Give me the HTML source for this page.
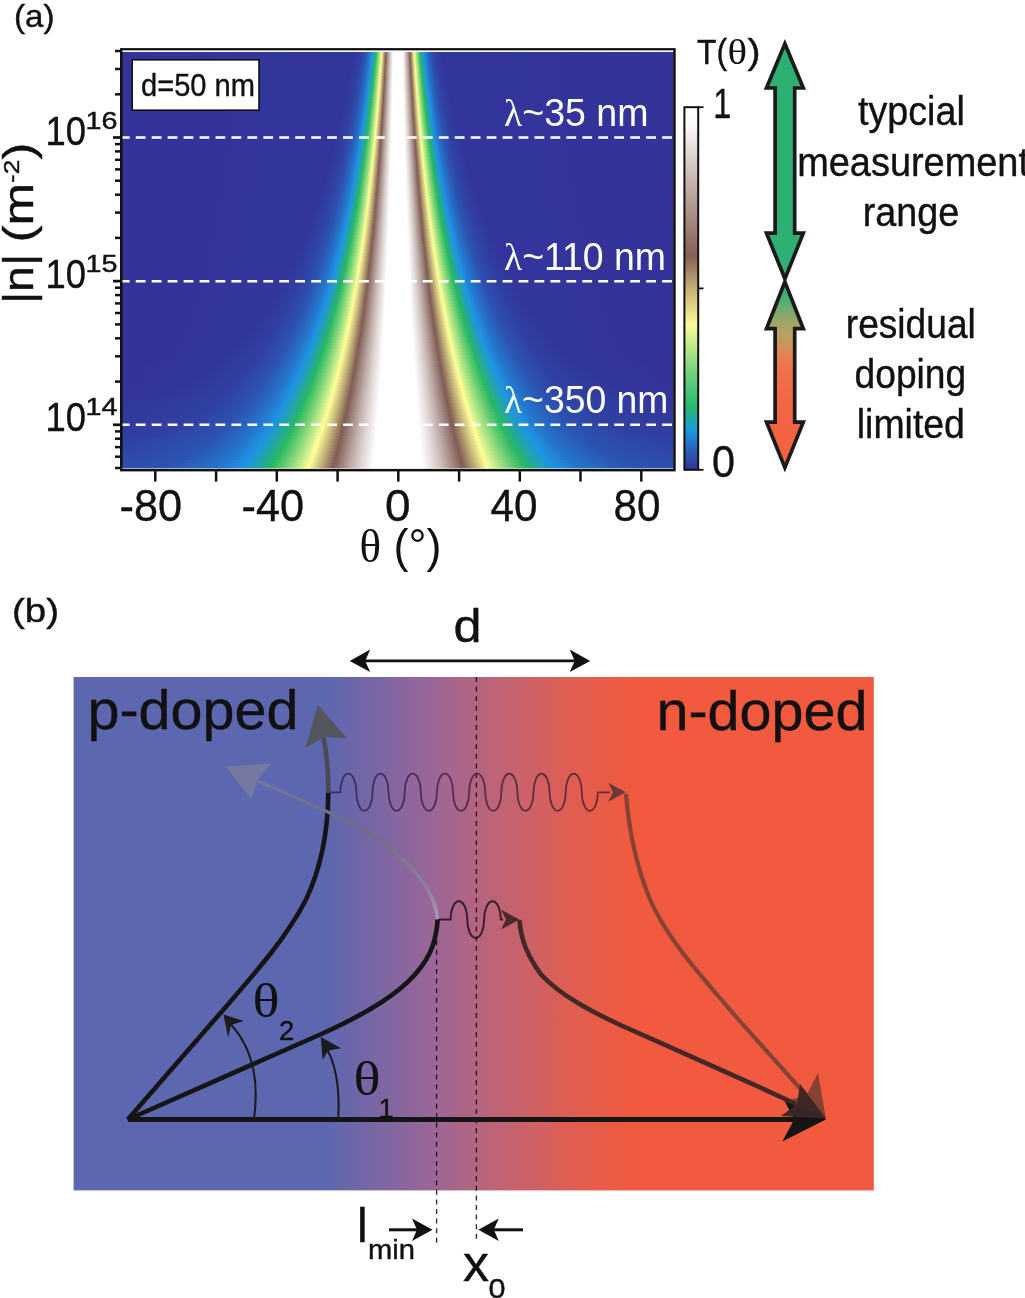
<!DOCTYPE html>
<html><head><meta charset="utf-8"><title>Figure</title>
<style>
html,body{margin:0;padding:0;background:#fff}
#pg{position:relative;width:1025px;height:1298px;overflow:hidden;background:#fff}
#hm{position:absolute;left:0;top:0;width:0;height:0}
#hm div{position:absolute;left:122.3px;width:551.2px}
</style></head><body><div id="pg">
<div id="hm"><div style="top:51.6px;height:3.3px;background:linear-gradient(90deg,#333399 0.00%,#32369c 42.15%,#3040a3 43.29%,#2c53b2 44.15%,#2574cb 44.88%,#1e94e4 45.37%,#23a6a3 45.74%,#28b862 46.05%,#5eca70 46.35%,#94dc7e 46.62%,#c9ed8b 46.87%,#ffff99 47.11%,#ded487 47.32%,#c0ae77 47.50%,#a18766 47.68%,#805c54 47.88%,#a0857f 48.16%,#c0aeaa 48.46%,#dfd6d4 48.80%,#ffffff 49.23%,#ffffff 50.07%,#ffffff 50.92%,#dfd6d4 51.34%,#c0aeaa 51.68%,#a0857f 51.98%,#805c54 52.27%,#a18766 52.47%,#c0ae77 52.65%,#ded487 52.83%,#ffff99 53.04%,#c9ed8b 53.27%,#94dc7e 53.52%,#5eca70 53.79%,#28b862 54.09%,#23a6a3 54.41%,#1e94e4 54.78%,#2574cb 55.26%,#2c53b2 56.00%,#3040a3 56.86%,#32369c 57.99%,#333399 100.00%)"></div><div style="top:54.6px;height:3.3px;background:linear-gradient(90deg,#333399 0.00%,#32369c 42.06%,#3040a3 43.20%,#2c53b2 44.07%,#2574cb 44.82%,#1e94e4 45.31%,#23a6a3 45.69%,#28b862 46.00%,#5eca70 46.31%,#94dc7e 46.58%,#c9ed8b 46.84%,#ffff99 47.07%,#ded487 47.28%,#c0ae77 47.47%,#a18766 47.65%,#805c54 47.85%,#a0857f 48.14%,#c0aeaa 48.44%,#dfd6d4 48.79%,#ffffff 49.22%,#ffffff 50.07%,#ffffff 50.93%,#dfd6d4 51.36%,#c0aeaa 51.70%,#a0857f 52.01%,#805c54 52.30%,#a18766 52.50%,#c0ae77 52.68%,#ded487 52.86%,#ffff99 53.07%,#c9ed8b 53.31%,#94dc7e 53.56%,#5eca70 53.84%,#28b862 54.14%,#23a6a3 54.46%,#1e94e4 54.84%,#2574cb 55.33%,#2c53b2 56.07%,#3040a3 56.94%,#32369c 58.09%,#333399 100.00%)"></div><div style="top:57.6px;height:3.3px;background:linear-gradient(90deg,#333399 0.00%,#32369c 41.96%,#3040a3 43.12%,#2c53b2 44.00%,#2574cb 44.76%,#1e94e4 45.25%,#23a6a3 45.63%,#28b862 45.96%,#5eca70 46.26%,#94dc7e 46.54%,#c9ed8b 46.80%,#ffff99 47.04%,#ded487 47.25%,#c0ae77 47.43%,#a18766 47.62%,#805c54 47.82%,#a0857f 48.12%,#c0aeaa 48.42%,#dfd6d4 48.77%,#ffffff 49.21%,#ffffff 50.07%,#ffffff 50.94%,#dfd6d4 51.37%,#c0aeaa 51.72%,#a0857f 52.03%,#805c54 52.32%,#a18766 52.53%,#c0ae77 52.71%,#ded487 52.90%,#ffff99 53.11%,#c9ed8b 53.35%,#94dc7e 53.60%,#5eca70 53.88%,#28b862 54.19%,#23a6a3 54.51%,#1e94e4 54.89%,#2574cb 55.39%,#2c53b2 56.15%,#3040a3 57.03%,#32369c 58.19%,#333399 100.00%)"></div><div style="top:60.6px;height:3.3px;background:linear-gradient(90deg,#333399 0.00%,#32369c 41.86%,#3040a3 43.03%,#2c53b2 43.93%,#2574cb 44.69%,#1e94e4 45.19%,#23a6a3 45.58%,#28b862 45.90%,#5eca70 46.22%,#94dc7e 46.50%,#c9ed8b 46.76%,#ffff99 47.00%,#ded487 47.21%,#c0ae77 47.40%,#a18766 47.59%,#805c54 47.80%,#a0857f 48.09%,#c0aeaa 48.40%,#dfd6d4 48.76%,#ffffff 49.19%,#ffffff 50.07%,#ffffff 50.95%,#dfd6d4 51.39%,#c0aeaa 51.74%,#a0857f 52.05%,#805c54 52.35%,#a18766 52.56%,#c0ae77 52.74%,#ded487 52.93%,#ffff99 53.14%,#c9ed8b 53.39%,#94dc7e 53.65%,#5eca70 53.93%,#28b862 54.24%,#23a6a3 54.57%,#1e94e4 54.95%,#2574cb 55.45%,#2c53b2 56.22%,#3040a3 57.11%,#32369c 58.29%,#333399 100.00%)"></div><div style="top:63.6px;height:3.3px;background:linear-gradient(90deg,#333399 0.00%,#32369c 41.75%,#3040a3 42.95%,#2c53b2 43.85%,#2574cb 44.63%,#1e94e4 45.13%,#23a6a3 45.53%,#28b862 45.85%,#5eca70 46.17%,#94dc7e 46.45%,#c9ed8b 46.72%,#ffff99 46.96%,#ded487 47.18%,#c0ae77 47.37%,#a18766 47.56%,#805c54 47.77%,#a0857f 48.07%,#c0aeaa 48.38%,#dfd6d4 48.74%,#ffffff 49.18%,#ffffff 50.07%,#ffffff 50.96%,#dfd6d4 51.41%,#c0aeaa 51.76%,#a0857f 52.08%,#805c54 52.38%,#a18766 52.59%,#c0ae77 52.77%,#ded487 52.97%,#ffff99 53.18%,#c9ed8b 53.43%,#94dc7e 53.69%,#5eca70 53.97%,#28b862 54.29%,#23a6a3 54.62%,#1e94e4 55.01%,#2574cb 55.52%,#2c53b2 56.30%,#3040a3 57.20%,#32369c 58.39%,#333399 100.00%)"></div><div style="top:66.6px;height:3.3px;background:linear-gradient(90deg,#333399 0.00%,#32369c 41.65%,#3040a3 42.86%,#2c53b2 43.77%,#2574cb 44.56%,#1e94e4 45.07%,#23a6a3 45.47%,#28b862 45.80%,#5eca70 46.12%,#94dc7e 46.41%,#c9ed8b 46.68%,#ffff99 46.93%,#ded487 47.14%,#c0ae77 47.34%,#a18766 47.53%,#805c54 47.74%,#a0857f 48.04%,#c0aeaa 48.36%,#dfd6d4 48.72%,#ffffff 49.17%,#ffffff 50.07%,#ffffff 50.97%,#dfd6d4 51.42%,#c0aeaa 51.78%,#a0857f 52.10%,#805c54 52.41%,#a18766 52.62%,#c0ae77 52.81%,#ded487 53.00%,#ffff99 53.22%,#c9ed8b 53.47%,#94dc7e 53.73%,#5eca70 54.02%,#28b862 54.34%,#23a6a3 54.68%,#1e94e4 55.07%,#2574cb 55.59%,#2c53b2 56.37%,#3040a3 57.29%,#32369c 58.49%,#333399 100.00%)"></div><div style="top:69.6px;height:3.3px;background:linear-gradient(90deg,#333399 0.00%,#32369c 41.55%,#3040a3 42.77%,#2c53b2 43.70%,#2574cb 44.49%,#1e94e4 45.01%,#23a6a3 45.41%,#28b862 45.75%,#5eca70 46.07%,#94dc7e 46.37%,#c9ed8b 46.63%,#ffff99 46.89%,#ded487 47.11%,#c0ae77 47.30%,#a18766 47.50%,#805c54 47.71%,#a0857f 48.02%,#c0aeaa 48.34%,#dfd6d4 48.71%,#ffffff 49.16%,#ffffff 50.07%,#ffffff 50.98%,#dfd6d4 51.44%,#c0aeaa 51.80%,#a0857f 52.13%,#805c54 52.43%,#a18766 52.65%,#c0ae77 52.84%,#ded487 53.04%,#ffff99 53.26%,#c9ed8b 53.51%,#94dc7e 53.78%,#5eca70 54.07%,#28b862 54.39%,#23a6a3 54.73%,#1e94e4 55.13%,#2574cb 55.65%,#2c53b2 56.45%,#3040a3 57.37%,#32369c 58.60%,#333399 100.00%)"></div><div style="top:72.6px;height:3.3px;background:linear-gradient(90deg,#333399 0.00%,#32369c 41.44%,#3040a3 42.68%,#2c53b2 43.62%,#2574cb 44.42%,#1e94e4 44.95%,#23a6a3 45.36%,#28b862 45.70%,#5eca70 46.03%,#94dc7e 46.32%,#c9ed8b 46.59%,#ffff99 46.85%,#ded487 47.07%,#c0ae77 47.27%,#a18766 47.47%,#805c54 47.68%,#a0857f 47.99%,#c0aeaa 48.32%,#dfd6d4 48.69%,#ffffff 49.15%,#ffffff 50.07%,#ffffff 50.99%,#dfd6d4 51.45%,#c0aeaa 51.82%,#a0857f 52.15%,#805c54 52.46%,#a18766 52.68%,#c0ae77 52.87%,#ded487 53.07%,#ffff99 53.30%,#c9ed8b 53.55%,#94dc7e 53.82%,#5eca70 54.12%,#28b862 54.45%,#23a6a3 54.79%,#1e94e4 55.20%,#2574cb 55.72%,#2c53b2 56.53%,#3040a3 57.46%,#32369c 58.70%,#333399 100.00%)"></div><div style="top:75.6px;height:3.3px;background:linear-gradient(90deg,#333399 0.00%,#32369c 41.33%,#3040a3 42.59%,#2c53b2 43.54%,#2574cb 44.35%,#1e94e4 44.89%,#23a6a3 45.30%,#28b862 45.65%,#5eca70 45.98%,#94dc7e 46.28%,#c9ed8b 46.55%,#ffff99 46.81%,#ded487 47.04%,#c0ae77 47.24%,#a18766 47.43%,#805c54 47.65%,#a0857f 47.97%,#c0aeaa 48.30%,#dfd6d4 48.67%,#ffffff 49.14%,#ffffff 50.07%,#ffffff 51.01%,#dfd6d4 51.47%,#c0aeaa 51.84%,#a0857f 52.18%,#805c54 52.49%,#a18766 52.71%,#c0ae77 52.91%,#ded487 53.11%,#ffff99 53.34%,#c9ed8b 53.59%,#94dc7e 53.87%,#5eca70 54.17%,#28b862 54.50%,#23a6a3 54.85%,#1e94e4 55.26%,#2574cb 55.79%,#2c53b2 56.61%,#3040a3 57.56%,#32369c 58.81%,#333399 100.00%)"></div><div style="top:78.6px;height:3.3px;background:linear-gradient(90deg,#333399 0.00%,#32369c 41.23%,#3040a3 42.50%,#2c53b2 43.46%,#2574cb 44.28%,#1e94e4 44.82%,#23a6a3 45.24%,#28b862 45.59%,#5eca70 45.93%,#94dc7e 46.23%,#c9ed8b 46.51%,#ffff99 46.77%,#ded487 47.00%,#c0ae77 47.20%,#a18766 47.40%,#805c54 47.62%,#a0857f 47.94%,#c0aeaa 48.28%,#dfd6d4 48.66%,#ffffff 49.13%,#ffffff 50.07%,#ffffff 51.02%,#dfd6d4 51.49%,#c0aeaa 51.87%,#a0857f 52.20%,#805c54 52.52%,#a18766 52.74%,#c0ae77 52.94%,#ded487 53.14%,#ffff99 53.37%,#c9ed8b 53.64%,#94dc7e 53.92%,#5eca70 54.22%,#28b862 54.55%,#23a6a3 54.90%,#1e94e4 55.32%,#2574cb 55.86%,#2c53b2 56.69%,#3040a3 57.65%,#32369c 58.92%,#333399 100.00%)"></div><div style="top:81.6px;height:3.3px;background:linear-gradient(90deg,#333399 0.00%,#32369c 41.12%,#3040a3 42.40%,#2c53b2 43.38%,#2574cb 44.21%,#1e94e4 44.76%,#23a6a3 45.18%,#28b862 45.54%,#5eca70 45.88%,#94dc7e 46.18%,#c9ed8b 46.46%,#ffff99 46.73%,#ded487 46.96%,#c0ae77 47.17%,#a18766 47.37%,#805c54 47.60%,#a0857f 47.92%,#c0aeaa 48.26%,#dfd6d4 48.64%,#ffffff 49.12%,#ffffff 50.07%,#ffffff 51.03%,#dfd6d4 51.51%,#c0aeaa 51.89%,#a0857f 52.23%,#805c54 52.55%,#a18766 52.78%,#c0ae77 52.98%,#ded487 53.18%,#ffff99 53.41%,#c9ed8b 53.68%,#94dc7e 53.96%,#5eca70 54.27%,#28b862 54.61%,#23a6a3 54.96%,#1e94e4 55.39%,#2574cb 55.93%,#2c53b2 56.77%,#3040a3 57.74%,#32369c 59.03%,#333399 100.00%)"></div><div style="top:84.6px;height:3.3px;background:linear-gradient(90deg,#333399 0.00%,#32369c 41.00%,#3040a3 42.31%,#2c53b2 43.30%,#2574cb 44.14%,#1e94e4 44.69%,#23a6a3 45.12%,#28b862 45.48%,#5eca70 45.83%,#94dc7e 46.13%,#c9ed8b 46.42%,#ffff99 46.69%,#ded487 46.93%,#c0ae77 47.13%,#a18766 47.34%,#805c54 47.57%,#a0857f 47.89%,#c0aeaa 48.24%,#dfd6d4 48.62%,#ffffff 49.11%,#ffffff 50.07%,#ffffff 51.04%,#dfd6d4 51.52%,#c0aeaa 51.91%,#a0857f 52.25%,#805c54 52.58%,#a18766 52.81%,#c0ae77 53.01%,#ded487 53.22%,#ffff99 53.46%,#c9ed8b 53.72%,#94dc7e 54.01%,#5eca70 54.32%,#28b862 54.66%,#23a6a3 55.02%,#1e94e4 55.45%,#2574cb 56.00%,#2c53b2 56.85%,#3040a3 57.84%,#32369c 59.14%,#333399 100.00%)"></div><div style="top:87.6px;height:3.3px;background:linear-gradient(90deg,#333399 0.00%,#32369c 40.89%,#3040a3 42.21%,#2c53b2 43.21%,#2574cb 44.07%,#1e94e4 44.63%,#23a6a3 45.06%,#28b862 45.43%,#5eca70 45.77%,#94dc7e 46.09%,#c9ed8b 46.38%,#ffff99 46.65%,#ded487 46.89%,#c0ae77 47.10%,#a18766 47.30%,#805c54 47.53%,#a0857f 47.86%,#c0aeaa 48.21%,#dfd6d4 48.60%,#ffffff 49.09%,#ffffff 50.07%,#ffffff 51.05%,#dfd6d4 51.54%,#c0aeaa 51.93%,#a0857f 52.28%,#805c54 52.61%,#a18766 52.84%,#c0ae77 53.05%,#ded487 53.26%,#ffff99 53.50%,#c9ed8b 53.77%,#94dc7e 54.06%,#5eca70 54.37%,#28b862 54.72%,#23a6a3 55.08%,#1e94e4 55.52%,#2574cb 56.08%,#2c53b2 56.93%,#3040a3 57.93%,#32369c 59.25%,#333399 100.00%)"></div><div style="top:90.6px;height:3.3px;background:linear-gradient(90deg,#333399 0.00%,#32369c 40.78%,#3040a3 42.12%,#2c53b2 43.13%,#2574cb 44.00%,#1e94e4 44.56%,#23a6a3 45.00%,#28b862 45.37%,#5eca70 45.72%,#94dc7e 46.04%,#c9ed8b 46.33%,#ffff99 46.61%,#ded487 46.85%,#c0ae77 47.06%,#a18766 47.27%,#805c54 47.50%,#a0857f 47.84%,#c0aeaa 48.19%,#dfd6d4 48.59%,#ffffff 49.08%,#ffffff 50.07%,#ffffff 51.06%,#dfd6d4 51.56%,#c0aeaa 51.95%,#a0857f 52.31%,#805c54 52.64%,#a18766 52.87%,#c0ae77 53.08%,#ded487 53.30%,#ffff99 53.54%,#c9ed8b 53.81%,#94dc7e 54.11%,#5eca70 54.42%,#28b862 54.78%,#23a6a3 55.14%,#1e94e4 55.58%,#2574cb 56.15%,#2c53b2 57.02%,#3040a3 58.03%,#32369c 59.37%,#333399 100.00%)"></div><div style="top:93.6px;height:3.3px;background:linear-gradient(90deg,#333399 0.00%,#32369c 40.66%,#3040a3 42.02%,#2c53b2 43.04%,#2574cb 43.92%,#1e94e4 44.50%,#23a6a3 44.94%,#28b862 45.31%,#5eca70 45.67%,#94dc7e 45.99%,#c9ed8b 46.29%,#ffff99 46.57%,#ded487 46.81%,#c0ae77 47.02%,#a18766 47.24%,#805c54 47.47%,#a0857f 47.81%,#c0aeaa 48.17%,#dfd6d4 48.57%,#ffffff 49.07%,#ffffff 50.07%,#ffffff 51.07%,#dfd6d4 51.58%,#c0aeaa 51.98%,#a0857f 52.33%,#805c54 52.67%,#a18766 52.91%,#c0ae77 53.12%,#ded487 53.34%,#ffff99 53.58%,#c9ed8b 53.86%,#94dc7e 54.16%,#5eca70 54.48%,#28b862 54.83%,#23a6a3 55.21%,#1e94e4 55.65%,#2574cb 56.22%,#2c53b2 57.10%,#3040a3 58.13%,#32369c 59.48%,#333399 100.00%)"></div><div style="top:96.6px;height:3.3px;background:linear-gradient(90deg,#333399 0.00%,#32369c 40.54%,#3040a3 41.92%,#2c53b2 42.96%,#2574cb 43.85%,#1e94e4 44.43%,#23a6a3 44.88%,#28b862 45.25%,#5eca70 45.61%,#94dc7e 45.94%,#c9ed8b 46.24%,#ffff99 46.52%,#ded487 46.77%,#c0ae77 46.99%,#a18766 47.20%,#805c54 47.44%,#a0857f 47.78%,#c0aeaa 48.15%,#dfd6d4 48.55%,#ffffff 49.06%,#ffffff 50.07%,#ffffff 51.09%,#dfd6d4 51.59%,#c0aeaa 52.00%,#a0857f 52.36%,#805c54 52.70%,#a18766 52.94%,#c0ae77 53.16%,#ded487 53.38%,#ffff99 53.62%,#c9ed8b 53.91%,#94dc7e 54.21%,#5eca70 54.53%,#28b862 54.89%,#23a6a3 55.27%,#1e94e4 55.72%,#2574cb 56.30%,#2c53b2 57.19%,#3040a3 58.23%,#32369c 59.60%,#333399 100.00%)"></div><div style="top:99.6px;height:3.3px;background:linear-gradient(90deg,#333399 0.00%,#32369c 40.42%,#3040a3 41.82%,#2c53b2 42.87%,#2574cb 43.77%,#1e94e4 44.36%,#23a6a3 44.81%,#28b862 45.19%,#5eca70 45.56%,#94dc7e 45.89%,#c9ed8b 46.19%,#ffff99 46.48%,#ded487 46.73%,#c0ae77 46.95%,#a18766 47.17%,#805c54 47.41%,#a0857f 47.76%,#c0aeaa 48.12%,#dfd6d4 48.53%,#ffffff 49.05%,#ffffff 50.07%,#ffffff 51.10%,#dfd6d4 51.61%,#c0aeaa 52.02%,#a0857f 52.39%,#805c54 52.74%,#a18766 52.98%,#c0ae77 53.20%,#ded487 53.42%,#ffff99 53.67%,#c9ed8b 53.95%,#94dc7e 54.26%,#5eca70 54.58%,#28b862 54.95%,#23a6a3 55.33%,#1e94e4 55.79%,#2574cb 56.38%,#2c53b2 57.28%,#3040a3 58.33%,#32369c 59.72%,#333399 100.00%)"></div><div style="top:102.6px;height:3.3px;background:linear-gradient(90deg,#333399 0.00%,#32369c 40.30%,#3040a3 41.72%,#2c53b2 42.78%,#2574cb 43.69%,#1e94e4 44.29%,#23a6a3 44.75%,#28b862 45.14%,#5eca70 45.51%,#94dc7e 45.84%,#c9ed8b 46.15%,#ffff99 46.44%,#ded487 46.69%,#c0ae77 46.91%,#a18766 47.13%,#805c54 47.38%,#a0857f 47.73%,#c0aeaa 48.10%,#dfd6d4 48.51%,#ffffff 49.03%,#ffffff 50.07%,#ffffff 51.11%,#dfd6d4 51.63%,#c0aeaa 52.05%,#a0857f 52.42%,#805c54 52.77%,#a18766 53.01%,#c0ae77 53.23%,#ded487 53.46%,#ffff99 53.71%,#c9ed8b 54.00%,#94dc7e 54.31%,#5eca70 54.64%,#28b862 55.01%,#23a6a3 55.40%,#1e94e4 55.86%,#2574cb 56.45%,#2c53b2 57.37%,#3040a3 58.43%,#32369c 59.84%,#333399 100.00%)"></div><div style="top:105.6px;height:3.3px;background:linear-gradient(90deg,#333399 0.00%,#32369c 40.18%,#3040a3 41.61%,#2c53b2 42.69%,#2574cb 43.61%,#1e94e4 44.22%,#23a6a3 44.68%,#28b862 45.08%,#5eca70 45.45%,#94dc7e 45.79%,#c9ed8b 46.10%,#ffff99 46.39%,#ded487 46.65%,#c0ae77 46.87%,#a18766 47.10%,#805c54 47.34%,#a0857f 47.70%,#c0aeaa 48.07%,#dfd6d4 48.49%,#ffffff 49.02%,#ffffff 50.07%,#ffffff 51.12%,#dfd6d4 51.65%,#c0aeaa 52.07%,#a0857f 52.45%,#805c54 52.80%,#a18766 53.05%,#c0ae77 53.27%,#ded487 53.50%,#ffff99 53.75%,#c9ed8b 54.05%,#94dc7e 54.36%,#5eca70 54.70%,#28b862 55.07%,#23a6a3 55.46%,#1e94e4 55.93%,#2574cb 56.53%,#2c53b2 57.46%,#3040a3 58.53%,#32369c 59.96%,#333399 100.00%)"></div><div style="top:108.6px;height:3.3px;background:linear-gradient(90deg,#333399 0.00%,#32369c 40.06%,#3040a3 41.51%,#2c53b2 42.60%,#2574cb 43.53%,#1e94e4 44.15%,#23a6a3 44.62%,#28b862 45.01%,#5eca70 45.39%,#94dc7e 45.73%,#c9ed8b 46.05%,#ffff99 46.35%,#ded487 46.61%,#c0ae77 46.83%,#a18766 47.06%,#805c54 47.31%,#a0857f 47.67%,#c0aeaa 48.05%,#dfd6d4 48.48%,#ffffff 49.01%,#ffffff 50.07%,#ffffff 51.14%,#dfd6d4 51.67%,#c0aeaa 52.09%,#a0857f 52.47%,#805c54 52.83%,#a18766 53.08%,#c0ae77 53.31%,#ded487 53.54%,#ffff99 53.80%,#c9ed8b 54.10%,#94dc7e 54.41%,#5eca70 54.75%,#28b862 55.13%,#23a6a3 55.53%,#1e94e4 56.00%,#2574cb 56.61%,#2c53b2 57.55%,#3040a3 58.64%,#32369c 60.09%,#333399 100.00%)"></div><div style="top:111.6px;height:3.3px;background:linear-gradient(90deg,#333399 0.00%,#32369c 39.93%,#3040a3 41.40%,#2c53b2 42.51%,#2574cb 43.45%,#1e94e4 44.07%,#23a6a3 44.55%,#28b862 44.95%,#5eca70 45.34%,#94dc7e 45.68%,#c9ed8b 46.00%,#ffff99 46.30%,#ded487 46.56%,#c0ae77 46.80%,#a18766 47.02%,#805c54 47.28%,#a0857f 47.64%,#c0aeaa 48.03%,#dfd6d4 48.46%,#ffffff 49.00%,#ffffff 50.07%,#ffffff 51.15%,#dfd6d4 51.69%,#c0aeaa 52.12%,#a0857f 52.50%,#805c54 52.87%,#a18766 53.12%,#c0ae77 53.35%,#ded487 53.58%,#ffff99 53.84%,#c9ed8b 54.14%,#94dc7e 54.46%,#5eca70 54.81%,#28b862 55.19%,#23a6a3 55.59%,#1e94e4 56.07%,#2574cb 56.69%,#2c53b2 57.64%,#3040a3 58.74%,#32369c 60.21%,#333399 100.00%)"></div><div style="top:114.6px;height:3.3px;background:linear-gradient(90deg,#333399 0.00%,#32369c 39.81%,#3040a3 41.29%,#2c53b2 42.41%,#2574cb 43.37%,#1e94e4 44.00%,#23a6a3 44.48%,#28b862 44.89%,#5eca70 45.28%,#94dc7e 45.63%,#c9ed8b 45.95%,#ffff99 46.26%,#ded487 46.52%,#c0ae77 46.76%,#a18766 46.99%,#805c54 47.24%,#a0857f 47.61%,#c0aeaa 48.00%,#dfd6d4 48.44%,#ffffff 48.98%,#ffffff 50.07%,#ffffff 51.16%,#dfd6d4 51.71%,#c0aeaa 52.14%,#a0857f 52.53%,#805c54 52.90%,#a18766 53.16%,#c0ae77 53.39%,#ded487 53.62%,#ffff99 53.89%,#c9ed8b 54.19%,#94dc7e 54.52%,#5eca70 54.87%,#28b862 55.26%,#23a6a3 55.66%,#1e94e4 56.15%,#2574cb 56.77%,#2c53b2 57.73%,#3040a3 58.85%,#32369c 60.34%,#333399 100.00%)"></div><div style="top:117.6px;height:3.3px;background:linear-gradient(90deg,#333399 0.00%,#32369c 39.68%,#3040a3 41.18%,#2c53b2 42.32%,#2574cb 43.29%,#1e94e4 43.93%,#23a6a3 44.42%,#28b862 44.83%,#5eca70 45.22%,#94dc7e 45.57%,#c9ed8b 45.90%,#ffff99 46.21%,#ded487 46.48%,#c0ae77 46.72%,#a18766 46.95%,#805c54 47.21%,#a0857f 47.58%,#c0aeaa 47.98%,#dfd6d4 48.42%,#ffffff 48.97%,#ffffff 50.07%,#ffffff 51.18%,#dfd6d4 51.73%,#c0aeaa 52.17%,#a0857f 52.56%,#805c54 52.94%,#a18766 53.20%,#c0ae77 53.43%,#ded487 53.67%,#ffff99 53.94%,#c9ed8b 54.24%,#94dc7e 54.57%,#5eca70 54.92%,#28b862 55.32%,#23a6a3 55.73%,#1e94e4 56.22%,#2574cb 56.85%,#2c53b2 57.83%,#3040a3 58.96%,#32369c 60.47%,#333399 100.00%)"></div><div style="top:120.6px;height:3.3px;background:linear-gradient(90deg,#333399 0.00%,#32369c 39.55%,#3040a3 41.07%,#2c53b2 42.22%,#2574cb 43.21%,#1e94e4 43.85%,#23a6a3 44.35%,#28b862 44.76%,#5eca70 45.16%,#94dc7e 45.52%,#c9ed8b 45.85%,#ffff99 46.16%,#ded487 46.43%,#c0ae77 46.67%,#a18766 46.91%,#805c54 47.18%,#a0857f 47.55%,#c0aeaa 47.95%,#dfd6d4 48.40%,#ffffff 48.96%,#ffffff 50.07%,#ffffff 51.19%,#dfd6d4 51.75%,#c0aeaa 52.19%,#a0857f 52.59%,#805c54 52.97%,#a18766 53.23%,#c0ae77 53.47%,#ded487 53.71%,#ffff99 53.98%,#c9ed8b 54.29%,#94dc7e 54.63%,#5eca70 54.98%,#28b862 55.38%,#23a6a3 55.80%,#1e94e4 56.30%,#2574cb 56.94%,#2c53b2 57.92%,#3040a3 59.07%,#32369c 60.60%,#333399 100.00%)"></div><div style="top:123.6px;height:3.3px;background:linear-gradient(90deg,#333399 0.00%,#32369c 39.41%,#3040a3 40.96%,#2c53b2 42.13%,#2574cb 43.12%,#1e94e4 43.77%,#23a6a3 44.28%,#28b862 44.70%,#5eca70 45.10%,#94dc7e 45.46%,#c9ed8b 45.80%,#ffff99 46.11%,#ded487 46.39%,#c0ae77 46.63%,#a18766 46.87%,#805c54 47.14%,#a0857f 47.52%,#c0aeaa 47.92%,#dfd6d4 48.38%,#ffffff 48.94%,#ffffff 50.07%,#ffffff 51.20%,#dfd6d4 51.77%,#c0aeaa 52.22%,#a0857f 52.62%,#805c54 53.01%,#a18766 53.27%,#c0ae77 53.51%,#ded487 53.75%,#ffff99 54.03%,#c9ed8b 54.35%,#94dc7e 54.68%,#5eca70 55.04%,#28b862 55.45%,#23a6a3 55.87%,#1e94e4 56.37%,#2574cb 57.02%,#2c53b2 58.02%,#3040a3 59.18%,#32369c 60.73%,#333399 100.00%)"></div><div style="top:126.6px;height:3.3px;background:linear-gradient(90deg,#333399 0.00%,#32369c 39.28%,#3040a3 40.85%,#2c53b2 42.03%,#2574cb 43.04%,#1e94e4 43.70%,#23a6a3 44.21%,#28b862 44.63%,#5eca70 45.04%,#94dc7e 45.41%,#c9ed8b 45.75%,#ffff99 46.07%,#ded487 46.35%,#c0ae77 46.59%,#a18766 46.83%,#805c54 47.10%,#a0857f 47.49%,#c0aeaa 47.90%,#dfd6d4 48.36%,#ffffff 48.93%,#ffffff 50.07%,#ffffff 51.22%,#dfd6d4 51.79%,#c0aeaa 52.25%,#a0857f 52.65%,#805c54 53.04%,#a18766 53.31%,#c0ae77 53.55%,#ded487 53.80%,#ffff99 54.08%,#c9ed8b 54.40%,#94dc7e 54.74%,#5eca70 55.10%,#28b862 55.51%,#23a6a3 55.94%,#1e94e4 56.45%,#2574cb 57.11%,#2c53b2 58.12%,#3040a3 59.30%,#32369c 60.87%,#333399 100.00%)"></div><div style="top:129.6px;height:3.3px;background:linear-gradient(90deg,#333399 0.00%,#32369c 39.14%,#3040a3 40.73%,#2c53b2 41.93%,#2574cb 42.95%,#1e94e4 43.62%,#23a6a3 44.13%,#28b862 44.57%,#5eca70 44.98%,#94dc7e 45.35%,#c9ed8b 45.69%,#ffff99 46.02%,#ded487 46.30%,#c0ae77 46.55%,#a18766 46.79%,#805c54 47.07%,#a0857f 47.46%,#c0aeaa 47.87%,#dfd6d4 48.34%,#ffffff 48.91%,#ffffff 50.07%,#ffffff 51.23%,#dfd6d4 51.81%,#c0aeaa 52.27%,#a0857f 52.69%,#805c54 53.08%,#a18766 53.35%,#c0ae77 53.60%,#ded487 53.84%,#ffff99 54.13%,#c9ed8b 54.45%,#94dc7e 54.79%,#5eca70 55.17%,#28b862 55.58%,#23a6a3 56.01%,#1e94e4 56.53%,#2574cb 57.19%,#2c53b2 58.22%,#3040a3 59.41%,#32369c 61.00%,#333399 100.00%)"></div><div style="top:132.6px;height:3.3px;background:linear-gradient(90deg,#333399 0.00%,#32369c 39.01%,#3040a3 40.62%,#2c53b2 41.83%,#2574cb 42.86%,#1e94e4 43.54%,#23a6a3 44.06%,#28b862 44.50%,#5eca70 44.92%,#94dc7e 45.29%,#c9ed8b 45.64%,#ffff99 45.97%,#ded487 46.25%,#c0ae77 46.51%,#a18766 46.76%,#805c54 47.03%,#a0857f 47.43%,#c0aeaa 47.85%,#dfd6d4 48.31%,#ffffff 48.90%,#ffffff 50.07%,#ffffff 51.24%,#dfd6d4 51.83%,#c0aeaa 52.30%,#a0857f 52.72%,#805c54 53.11%,#a18766 53.39%,#c0ae77 53.64%,#ded487 53.89%,#ffff99 54.18%,#c9ed8b 54.50%,#94dc7e 54.85%,#5eca70 55.23%,#28b862 55.65%,#23a6a3 56.08%,#1e94e4 56.61%,#2574cb 57.28%,#2c53b2 58.32%,#3040a3 59.53%,#32369c 61.14%,#333399 100.00%)"></div><div style="top:135.6px;height:3.3px;background:linear-gradient(90deg,#333399 0.00%,#32369c 38.87%,#3040a3 40.50%,#2c53b2 41.73%,#2574cb 42.77%,#1e94e4 43.46%,#23a6a3 43.99%,#28b862 44.43%,#5eca70 44.85%,#94dc7e 45.24%,#c9ed8b 45.59%,#ffff99 45.92%,#ded487 46.21%,#c0ae77 46.46%,#a18766 46.71%,#805c54 47.00%,#a0857f 47.40%,#c0aeaa 47.82%,#dfd6d4 48.29%,#ffffff 48.89%,#ffffff 50.07%,#ffffff 51.26%,#dfd6d4 51.85%,#c0aeaa 52.33%,#a0857f 52.75%,#805c54 53.15%,#a18766 53.43%,#c0ae77 53.68%,#ded487 53.94%,#ffff99 54.23%,#c9ed8b 54.56%,#94dc7e 54.91%,#5eca70 55.29%,#28b862 55.72%,#23a6a3 56.16%,#1e94e4 56.69%,#2574cb 57.37%,#2c53b2 58.42%,#3040a3 59.65%,#32369c 61.28%,#333399 100.00%)"></div><div style="top:138.6px;height:3.3px;background:linear-gradient(90deg,#333399 0.00%,#32369c 38.72%,#3040a3 40.38%,#2c53b2 41.62%,#2574cb 42.68%,#1e94e4 43.38%,#23a6a3 43.91%,#28b862 44.36%,#5eca70 44.79%,#94dc7e 45.18%,#c9ed8b 45.53%,#ffff99 45.87%,#ded487 46.16%,#c0ae77 46.42%,#a18766 46.67%,#805c54 46.96%,#a0857f 47.36%,#c0aeaa 47.79%,#dfd6d4 48.27%,#ffffff 48.87%,#ffffff 50.07%,#ffffff 51.27%,#dfd6d4 51.87%,#c0aeaa 52.35%,#a0857f 52.78%,#805c54 53.19%,#a18766 53.47%,#c0ae77 53.73%,#ded487 53.98%,#ffff99 54.28%,#c9ed8b 54.61%,#94dc7e 54.97%,#5eca70 55.35%,#28b862 55.78%,#23a6a3 56.23%,#1e94e4 56.77%,#2574cb 57.46%,#2c53b2 58.52%,#3040a3 59.77%,#32369c 61.42%,#333399 100.00%)"></div><div style="top:141.6px;height:3.3px;background:linear-gradient(90deg,#333399 0.00%,#32369c 38.58%,#3040a3 40.26%,#2c53b2 41.52%,#2574cb 42.59%,#1e94e4 43.30%,#23a6a3 43.84%,#28b862 44.29%,#5eca70 44.73%,#94dc7e 45.12%,#c9ed8b 45.48%,#ffff99 45.82%,#ded487 46.11%,#c0ae77 46.37%,#a18766 46.63%,#805c54 46.92%,#a0857f 47.33%,#c0aeaa 47.76%,#dfd6d4 48.25%,#ffffff 48.86%,#ffffff 50.07%,#ffffff 51.29%,#dfd6d4 51.90%,#c0aeaa 52.38%,#a0857f 52.82%,#805c54 53.23%,#a18766 53.51%,#c0ae77 53.77%,#ded487 54.03%,#ffff99 54.33%,#c9ed8b 54.67%,#94dc7e 55.03%,#5eca70 55.42%,#28b862 55.85%,#23a6a3 56.31%,#1e94e4 56.85%,#2574cb 57.55%,#2c53b2 58.63%,#3040a3 59.89%,#32369c 61.56%,#333399 100.00%)"></div><div style="top:144.6px;height:3.3px;background:linear-gradient(90deg,#333399 0.00%,#32369c 38.44%,#3040a3 40.13%,#2c53b2 41.41%,#2574cb 42.50%,#1e94e4 43.21%,#23a6a3 43.76%,#28b862 44.22%,#5eca70 44.66%,#94dc7e 45.06%,#c9ed8b 45.42%,#ffff99 45.77%,#ded487 46.07%,#c0ae77 46.33%,#a18766 46.59%,#805c54 46.88%,#a0857f 47.30%,#c0aeaa 47.74%,#dfd6d4 48.23%,#ffffff 48.84%,#ffffff 50.07%,#ffffff 51.30%,#dfd6d4 51.92%,#c0aeaa 52.41%,#a0857f 52.85%,#805c54 53.26%,#a18766 53.55%,#c0ae77 53.82%,#ded487 54.08%,#ffff99 54.38%,#c9ed8b 54.72%,#94dc7e 55.09%,#5eca70 55.48%,#28b862 55.92%,#23a6a3 56.38%,#1e94e4 56.93%,#2574cb 57.64%,#2c53b2 58.73%,#3040a3 60.01%,#32369c 61.71%,#333399 100.00%)"></div><div style="top:147.6px;height:3.3px;background:linear-gradient(90deg,#333399 0.00%,#32369c 38.29%,#3040a3 40.01%,#2c53b2 41.30%,#2574cb 42.41%,#1e94e4 43.13%,#23a6a3 43.68%,#28b862 44.15%,#5eca70 44.59%,#94dc7e 45.00%,#c9ed8b 45.36%,#ffff99 45.71%,#ded487 46.02%,#c0ae77 46.28%,#a18766 46.55%,#805c54 46.84%,#a0857f 47.26%,#c0aeaa 47.71%,#dfd6d4 48.20%,#ffffff 48.83%,#ffffff 50.07%,#ffffff 51.32%,#dfd6d4 51.94%,#c0aeaa 52.44%,#a0857f 52.88%,#805c54 53.30%,#a18766 53.60%,#c0ae77 53.86%,#ded487 54.13%,#ffff99 54.43%,#c9ed8b 54.78%,#94dc7e 55.15%,#5eca70 55.55%,#28b862 56.00%,#23a6a3 56.46%,#1e94e4 57.02%,#2574cb 57.74%,#2c53b2 58.84%,#3040a3 60.13%,#32369c 61.86%,#333399 100.00%)"></div><div style="top:150.6px;height:3.3px;background:linear-gradient(90deg,#333399 0.00%,#32369c 38.14%,#3040a3 39.88%,#2c53b2 41.19%,#2574cb 42.31%,#1e94e4 43.04%,#23a6a3 43.61%,#28b862 44.08%,#5eca70 44.53%,#94dc7e 44.93%,#c9ed8b 45.31%,#ffff99 45.66%,#ded487 45.97%,#c0ae77 46.24%,#a18766 46.51%,#805c54 46.80%,#a0857f 47.23%,#c0aeaa 47.68%,#dfd6d4 48.18%,#ffffff 48.81%,#ffffff 50.07%,#ffffff 51.33%,#dfd6d4 51.96%,#c0aeaa 52.47%,#a0857f 52.92%,#805c54 53.34%,#a18766 53.64%,#c0ae77 53.91%,#ded487 54.18%,#ffff99 54.49%,#c9ed8b 54.84%,#94dc7e 55.21%,#5eca70 55.62%,#28b862 56.07%,#23a6a3 56.54%,#1e94e4 57.10%,#2574cb 57.83%,#2c53b2 58.95%,#3040a3 60.26%,#32369c 62.01%,#333399 100.00%)"></div><div style="top:153.6px;height:3.3px;background:linear-gradient(90deg,#333399 0.00%,#32369c 37.99%,#3040a3 39.76%,#2c53b2 41.08%,#2574cb 42.22%,#1e94e4 42.96%,#23a6a3 43.53%,#28b862 44.00%,#5eca70 44.46%,#94dc7e 44.87%,#c9ed8b 45.25%,#ffff99 45.61%,#ded487 45.92%,#c0ae77 46.19%,#a18766 46.46%,#805c54 46.76%,#a0857f 47.19%,#c0aeaa 47.65%,#dfd6d4 48.16%,#ffffff 48.80%,#ffffff 50.07%,#ffffff 51.35%,#dfd6d4 51.99%,#c0aeaa 52.50%,#a0857f 52.95%,#805c54 53.38%,#a18766 53.68%,#c0ae77 53.95%,#ded487 54.23%,#ffff99 54.54%,#c9ed8b 54.90%,#94dc7e 55.27%,#5eca70 55.68%,#28b862 56.14%,#23a6a3 56.62%,#1e94e4 57.19%,#2574cb 57.93%,#2c53b2 59.06%,#3040a3 60.39%,#32369c 62.16%,#333399 100.00%)"></div><div style="top:156.6px;height:3.3px;background:linear-gradient(90deg,#333399 0.00%,#32369c 37.83%,#3040a3 39.63%,#2c53b2 40.97%,#2574cb 42.12%,#1e94e4 42.87%,#23a6a3 43.45%,#28b862 43.93%,#5eca70 44.39%,#94dc7e 44.81%,#c9ed8b 45.19%,#ffff99 45.55%,#ded487 45.87%,#c0ae77 46.14%,#a18766 46.42%,#805c54 46.72%,#a0857f 47.16%,#c0aeaa 47.62%,#dfd6d4 48.14%,#ffffff 48.78%,#ffffff 50.07%,#ffffff 51.36%,#dfd6d4 52.01%,#c0aeaa 52.52%,#a0857f 52.99%,#805c54 53.42%,#a18766 53.73%,#c0ae77 54.00%,#ded487 54.28%,#ffff99 54.59%,#c9ed8b 54.95%,#94dc7e 55.34%,#5eca70 55.75%,#28b862 56.22%,#23a6a3 56.70%,#1e94e4 57.28%,#2574cb 58.02%,#2c53b2 59.17%,#3040a3 60.52%,#32369c 62.31%,#333399 100.00%)"></div><div style="top:159.6px;height:3.3px;background:linear-gradient(90deg,#333399 0.00%,#32369c 37.68%,#3040a3 39.50%,#2c53b2 40.86%,#2574cb 42.02%,#1e94e4 42.78%,#23a6a3 43.36%,#28b862 43.85%,#5eca70 44.32%,#94dc7e 44.74%,#c9ed8b 45.13%,#ffff99 45.50%,#ded487 45.82%,#c0ae77 46.10%,#a18766 46.37%,#805c54 46.68%,#a0857f 47.12%,#c0aeaa 47.59%,#dfd6d4 48.11%,#ffffff 48.77%,#ffffff 50.07%,#ffffff 51.38%,#dfd6d4 52.03%,#c0aeaa 52.55%,#a0857f 53.02%,#805c54 53.46%,#a18766 53.77%,#c0ae77 54.05%,#ded487 54.33%,#ffff99 54.65%,#c9ed8b 55.01%,#94dc7e 55.40%,#5eca70 55.82%,#28b862 56.29%,#23a6a3 56.78%,#1e94e4 57.37%,#2574cb 58.12%,#2c53b2 59.29%,#3040a3 60.65%,#32369c 62.47%,#333399 100.00%)"></div><div style="top:162.6px;height:3.3px;background:linear-gradient(90deg,#333399 0.00%,#32369c 37.52%,#3040a3 39.36%,#2c53b2 40.74%,#2574cb 41.92%,#1e94e4 42.69%,#23a6a3 43.28%,#28b862 43.78%,#5eca70 44.25%,#94dc7e 44.68%,#c9ed8b 45.07%,#ffff99 45.44%,#ded487 45.76%,#c0ae77 46.05%,#a18766 46.33%,#805c54 46.64%,#a0857f 47.09%,#c0aeaa 47.56%,#dfd6d4 48.09%,#ffffff 48.75%,#ffffff 50.07%,#ffffff 51.39%,#dfd6d4 52.06%,#c0aeaa 52.58%,#a0857f 53.06%,#805c54 53.50%,#a18766 53.82%,#c0ae77 54.10%,#ded487 54.38%,#ffff99 54.70%,#c9ed8b 55.07%,#94dc7e 55.47%,#5eca70 55.89%,#28b862 56.37%,#23a6a3 56.86%,#1e94e4 57.46%,#2574cb 58.22%,#2c53b2 59.40%,#3040a3 60.78%,#32369c 62.63%,#333399 100.00%)"></div><div style="top:165.6px;height:3.3px;background:linear-gradient(90deg,#333399 0.00%,#32369c 37.36%,#3040a3 39.23%,#2c53b2 40.63%,#2574cb 41.82%,#1e94e4 42.60%,#23a6a3 43.20%,#28b862 43.70%,#5eca70 44.18%,#94dc7e 44.61%,#c9ed8b 45.01%,#ffff99 45.38%,#ded487 45.71%,#c0ae77 46.00%,#a18766 46.28%,#805c54 46.60%,#a0857f 47.05%,#c0aeaa 47.53%,#dfd6d4 48.07%,#ffffff 48.73%,#ffffff 50.07%,#ffffff 51.41%,#dfd6d4 52.08%,#c0aeaa 52.61%,#a0857f 53.09%,#805c54 53.54%,#a18766 53.86%,#c0ae77 54.15%,#ded487 54.43%,#ffff99 54.76%,#c9ed8b 55.14%,#94dc7e 55.53%,#5eca70 55.96%,#28b862 56.45%,#23a6a3 56.95%,#1e94e4 57.55%,#2574cb 58.32%,#2c53b2 59.52%,#3040a3 60.92%,#32369c 62.79%,#333399 100.00%)"></div><div style="top:168.6px;height:3.3px;background:linear-gradient(90deg,#333399 0.00%,#32369c 37.19%,#3040a3 39.09%,#2c53b2 40.51%,#2574cb 41.72%,#1e94e4 42.51%,#23a6a3 43.11%,#28b862 43.62%,#5eca70 44.11%,#94dc7e 44.55%,#c9ed8b 44.95%,#ffff99 45.33%,#ded487 45.66%,#c0ae77 45.95%,#a18766 46.24%,#805c54 46.56%,#a0857f 47.02%,#c0aeaa 47.50%,#dfd6d4 48.04%,#ffffff 48.72%,#ffffff 50.07%,#ffffff 51.43%,#dfd6d4 52.10%,#c0aeaa 52.65%,#a0857f 53.13%,#805c54 53.59%,#a18766 53.91%,#c0ae77 54.20%,#ded487 54.49%,#ffff99 54.82%,#c9ed8b 55.20%,#94dc7e 55.60%,#5eca70 56.04%,#28b862 56.52%,#23a6a3 57.03%,#1e94e4 57.64%,#2574cb 58.43%,#2c53b2 59.64%,#3040a3 61.05%,#32369c 62.95%,#333399 100.00%)"></div><div style="top:171.6px;height:3.3px;background:linear-gradient(90deg,#333399 0.00%,#32369c 37.03%,#3040a3 38.95%,#2c53b2 40.39%,#2574cb 41.62%,#1e94e4 42.41%,#23a6a3 43.03%,#28b862 43.54%,#5eca70 44.04%,#94dc7e 44.48%,#c9ed8b 44.89%,#ffff99 45.27%,#ded487 45.60%,#c0ae77 45.90%,#a18766 46.19%,#805c54 46.52%,#a0857f 46.98%,#c0aeaa 47.47%,#dfd6d4 48.02%,#ffffff 48.70%,#ffffff 50.07%,#ffffff 51.44%,#dfd6d4 52.13%,#c0aeaa 52.68%,#a0857f 53.17%,#805c54 53.63%,#a18766 53.95%,#c0ae77 54.25%,#ded487 54.54%,#ffff99 54.88%,#c9ed8b 55.26%,#94dc7e 55.67%,#5eca70 56.11%,#28b862 56.60%,#23a6a3 57.12%,#1e94e4 57.73%,#2574cb 58.53%,#2c53b2 59.75%,#3040a3 61.19%,#32369c 63.12%,#333399 100.00%)"></div><div style="top:174.6px;height:3.3px;background:linear-gradient(90deg,#333399 0.00%,#32369c 36.86%,#3040a3 38.81%,#2c53b2 40.27%,#2574cb 41.51%,#1e94e4 42.32%,#23a6a3 42.94%,#28b862 43.46%,#5eca70 43.96%,#94dc7e 44.41%,#c9ed8b 44.82%,#ffff99 45.21%,#ded487 45.55%,#c0ae77 45.85%,#a18766 46.14%,#805c54 46.47%,#a0857f 46.94%,#c0aeaa 47.44%,#dfd6d4 47.99%,#ffffff 48.69%,#ffffff 50.07%,#ffffff 51.46%,#dfd6d4 52.15%,#c0aeaa 52.71%,#a0857f 53.20%,#805c54 53.67%,#a18766 54.00%,#c0ae77 54.30%,#ded487 54.59%,#ffff99 54.93%,#c9ed8b 55.32%,#94dc7e 55.74%,#5eca70 56.18%,#28b862 56.68%,#23a6a3 57.20%,#1e94e4 57.83%,#2574cb 58.63%,#2c53b2 59.88%,#3040a3 61.33%,#32369c 63.28%,#333399 100.00%)"></div><div style="top:177.6px;height:3.3px;background:linear-gradient(90deg,#333399 0.00%,#32369c 36.69%,#3040a3 38.67%,#2c53b2 40.15%,#2574cb 41.41%,#1e94e4 42.22%,#23a6a3 42.85%,#28b862 43.38%,#5eca70 43.89%,#94dc7e 44.34%,#c9ed8b 44.76%,#ffff99 45.15%,#ded487 45.50%,#c0ae77 45.80%,#a18766 46.10%,#805c54 46.43%,#a0857f 46.90%,#c0aeaa 47.40%,#dfd6d4 47.97%,#ffffff 48.67%,#ffffff 50.07%,#ffffff 51.48%,#dfd6d4 52.18%,#c0aeaa 52.74%,#a0857f 53.24%,#805c54 53.72%,#a18766 54.05%,#c0ae77 54.35%,#ded487 54.65%,#ffff99 54.99%,#c9ed8b 55.39%,#94dc7e 55.81%,#5eca70 56.26%,#28b862 56.76%,#23a6a3 57.29%,#1e94e4 57.92%,#2574cb 58.74%,#2c53b2 60.00%,#3040a3 61.48%,#32369c 63.45%,#333399 100.00%)"></div><div style="top:180.6px;height:3.3px;background:linear-gradient(90deg,#333399 0.00%,#32369c 36.52%,#3040a3 38.53%,#2c53b2 40.02%,#2574cb 41.30%,#1e94e4 42.13%,#23a6a3 42.77%,#28b862 43.30%,#5eca70 43.81%,#94dc7e 44.27%,#c9ed8b 44.69%,#ffff99 45.09%,#ded487 45.44%,#c0ae77 45.75%,#a18766 46.05%,#805c54 46.38%,#a0857f 46.86%,#c0aeaa 47.37%,#dfd6d4 47.94%,#ffffff 48.65%,#ffffff 50.07%,#ffffff 51.49%,#dfd6d4 52.20%,#c0aeaa 52.77%,#a0857f 53.28%,#805c54 53.76%,#a18766 54.10%,#c0ae77 54.40%,#ded487 54.71%,#ffff99 55.05%,#c9ed8b 55.45%,#94dc7e 55.88%,#5eca70 56.33%,#28b862 56.85%,#23a6a3 57.38%,#1e94e4 58.02%,#2574cb 58.85%,#2c53b2 60.12%,#3040a3 61.62%,#32369c 63.63%,#333399 100.00%)"></div><div style="top:183.6px;height:3.3px;background:linear-gradient(90deg,#333399 0.00%,#32369c 36.34%,#3040a3 38.38%,#2c53b2 39.90%,#2574cb 41.19%,#1e94e4 42.03%,#23a6a3 42.68%,#28b862 43.22%,#5eca70 43.73%,#94dc7e 44.20%,#c9ed8b 44.63%,#ffff99 45.03%,#ded487 45.38%,#c0ae77 45.69%,#a18766 46.00%,#805c54 46.34%,#a0857f 46.83%,#c0aeaa 47.34%,#dfd6d4 47.91%,#ffffff 48.63%,#ffffff 50.07%,#ffffff 51.51%,#dfd6d4 52.23%,#c0aeaa 52.81%,#a0857f 53.32%,#805c54 53.81%,#a18766 54.15%,#c0ae77 54.45%,#ded487 54.76%,#ffff99 55.11%,#c9ed8b 55.52%,#94dc7e 55.95%,#5eca70 56.41%,#28b862 56.93%,#23a6a3 57.47%,#1e94e4 58.12%,#2574cb 58.96%,#2c53b2 60.25%,#3040a3 61.77%,#32369c 63.80%,#333399 100.00%)"></div><div style="top:186.6px;height:3.3px;background:linear-gradient(90deg,#333399 0.00%,#32369c 36.17%,#3040a3 38.23%,#2c53b2 39.77%,#2574cb 41.08%,#1e94e4 41.93%,#23a6a3 42.58%,#28b862 43.13%,#5eca70 43.66%,#94dc7e 44.13%,#c9ed8b 44.56%,#ffff99 44.97%,#ded487 45.33%,#c0ae77 45.64%,#a18766 45.95%,#805c54 46.29%,#a0857f 46.79%,#c0aeaa 47.31%,#dfd6d4 47.89%,#ffffff 48.62%,#ffffff 50.07%,#ffffff 51.53%,#dfd6d4 52.26%,#c0aeaa 52.84%,#a0857f 53.36%,#805c54 53.85%,#a18766 54.20%,#c0ae77 54.51%,#ded487 54.82%,#ffff99 55.18%,#c9ed8b 55.58%,#94dc7e 56.02%,#5eca70 56.49%,#28b862 57.01%,#23a6a3 57.56%,#1e94e4 58.22%,#2574cb 59.07%,#2c53b2 60.38%,#3040a3 61.91%,#32369c 63.98%,#333399 100.00%)"></div><div style="top:189.6px;height:3.3px;background:linear-gradient(90deg,#333399 0.00%,#32369c 35.99%,#3040a3 38.08%,#2c53b2 39.64%,#2574cb 40.97%,#1e94e4 41.83%,#23a6a3 42.49%,#28b862 43.05%,#5eca70 43.58%,#94dc7e 44.05%,#c9ed8b 44.49%,#ffff99 44.91%,#ded487 45.27%,#c0ae77 45.59%,#a18766 45.90%,#805c54 46.25%,#a0857f 46.75%,#c0aeaa 47.27%,#dfd6d4 47.86%,#ffffff 48.60%,#ffffff 50.07%,#ffffff 51.55%,#dfd6d4 52.28%,#c0aeaa 52.87%,#a0857f 53.40%,#805c54 53.90%,#a18766 54.25%,#c0ae77 54.56%,#ded487 54.88%,#ffff99 55.24%,#c9ed8b 55.65%,#94dc7e 56.09%,#5eca70 56.57%,#28b862 57.10%,#23a6a3 57.65%,#1e94e4 58.32%,#2574cb 59.18%,#2c53b2 60.51%,#3040a3 62.06%,#32369c 64.16%,#333399 100.00%)"></div><div style="top:192.6px;height:3.3px;background:linear-gradient(90deg,#333399 0.00%,#32369c 35.80%,#3040a3 37.93%,#2c53b2 39.51%,#2574cb 40.85%,#1e94e4 41.73%,#23a6a3 42.40%,#28b862 42.96%,#5eca70 43.50%,#94dc7e 43.98%,#c9ed8b 44.43%,#ffff99 44.84%,#ded487 45.21%,#c0ae77 45.53%,#a18766 45.85%,#805c54 46.20%,#a0857f 46.71%,#c0aeaa 47.24%,#dfd6d4 47.84%,#ffffff 48.58%,#ffffff 50.07%,#ffffff 51.56%,#dfd6d4 52.31%,#c0aeaa 52.91%,#a0857f 53.44%,#805c54 53.94%,#a18766 54.30%,#c0ae77 54.61%,#ded487 54.94%,#ffff99 55.30%,#c9ed8b 55.72%,#94dc7e 56.16%,#5eca70 56.65%,#28b862 57.19%,#23a6a3 57.75%,#1e94e4 58.42%,#2574cb 59.29%,#2c53b2 60.64%,#3040a3 62.22%,#32369c 64.34%,#333399 100.00%)"></div><div style="top:195.6px;height:3.3px;background:linear-gradient(90deg,#333399 0.00%,#32369c 35.62%,#3040a3 37.77%,#2c53b2 39.38%,#2574cb 40.74%,#1e94e4 41.62%,#23a6a3 42.30%,#28b862 42.87%,#5eca70 43.42%,#94dc7e 43.91%,#c9ed8b 44.36%,#ffff99 44.78%,#ded487 45.15%,#c0ae77 45.48%,#a18766 45.80%,#805c54 46.15%,#a0857f 46.66%,#c0aeaa 47.20%,#dfd6d4 47.81%,#ffffff 48.56%,#ffffff 50.07%,#ffffff 51.58%,#dfd6d4 52.34%,#c0aeaa 52.94%,#a0857f 53.48%,#805c54 53.99%,#a18766 54.35%,#c0ae77 54.67%,#ded487 54.99%,#ffff99 55.37%,#c9ed8b 55.79%,#94dc7e 56.24%,#5eca70 56.73%,#28b862 57.27%,#23a6a3 57.84%,#1e94e4 58.52%,#2574cb 59.41%,#2c53b2 60.77%,#3040a3 62.37%,#32369c 64.53%,#333399 100.00%)"></div><div style="top:198.6px;height:3.3px;background:linear-gradient(90deg,#333399 0.00%,#32369c 35.43%,#3040a3 37.62%,#2c53b2 39.24%,#2574cb 40.62%,#1e94e4 41.52%,#23a6a3 42.21%,#28b862 42.78%,#5eca70 43.34%,#94dc7e 43.83%,#c9ed8b 44.29%,#ffff99 44.72%,#ded487 45.09%,#c0ae77 45.42%,#a18766 45.75%,#805c54 46.11%,#a0857f 46.62%,#c0aeaa 47.17%,#dfd6d4 47.78%,#ffffff 48.55%,#ffffff 50.07%,#ffffff 51.60%,#dfd6d4 52.36%,#c0aeaa 52.98%,#a0857f 53.52%,#805c54 54.04%,#a18766 54.40%,#c0ae77 54.73%,#ded487 55.05%,#ffff99 55.43%,#c9ed8b 55.86%,#94dc7e 56.31%,#5eca70 56.81%,#28b862 57.36%,#23a6a3 57.94%,#1e94e4 58.63%,#2574cb 59.52%,#2c53b2 60.90%,#3040a3 62.53%,#32369c 64.72%,#333399 100.00%)"></div><div style="top:201.6px;height:3.3px;background:linear-gradient(90deg,#333399 0.00%,#32369c 35.24%,#3040a3 37.46%,#2c53b2 39.11%,#2574cb 40.50%,#1e94e4 41.41%,#23a6a3 42.11%,#28b862 42.69%,#5eca70 43.25%,#94dc7e 43.75%,#c9ed8b 44.22%,#ffff99 44.65%,#ded487 45.03%,#c0ae77 45.36%,#a18766 45.69%,#805c54 46.06%,#a0857f 46.58%,#c0aeaa 47.13%,#dfd6d4 47.75%,#ffffff 48.53%,#ffffff 50.07%,#ffffff 51.62%,#dfd6d4 52.39%,#c0aeaa 53.01%,#a0857f 53.56%,#805c54 54.09%,#a18766 54.45%,#c0ae77 54.78%,#ded487 55.12%,#ffff99 55.50%,#c9ed8b 55.93%,#94dc7e 56.39%,#5eca70 56.89%,#28b862 57.45%,#23a6a3 58.03%,#1e94e4 58.73%,#2574cb 59.64%,#2c53b2 61.04%,#3040a3 62.69%,#32369c 64.91%,#333399 100.00%)"></div><div style="top:204.6px;height:3.3px;background:linear-gradient(90deg,#333399 0.00%,#32369c 35.04%,#3040a3 37.30%,#2c53b2 38.97%,#2574cb 40.38%,#1e94e4 41.30%,#23a6a3 42.01%,#28b862 42.60%,#5eca70 43.17%,#94dc7e 43.68%,#c9ed8b 44.14%,#ffff99 44.58%,#ded487 44.97%,#c0ae77 45.31%,#a18766 45.64%,#805c54 46.01%,#a0857f 46.54%,#c0aeaa 47.10%,#dfd6d4 47.72%,#ffffff 48.51%,#ffffff 50.07%,#ffffff 51.64%,#dfd6d4 52.42%,#c0aeaa 53.05%,#a0857f 53.61%,#805c54 54.14%,#a18766 54.51%,#c0ae77 54.84%,#ded487 55.18%,#ffff99 55.56%,#c9ed8b 56.00%,#94dc7e 56.47%,#5eca70 56.98%,#28b862 57.54%,#23a6a3 58.13%,#1e94e4 58.84%,#2574cb 59.76%,#2c53b2 61.18%,#3040a3 62.85%,#32369c 65.10%,#333399 100.00%)"></div><div style="top:207.6px;height:3.3px;background:linear-gradient(90deg,#333399 0.00%,#32369c 34.85%,#3040a3 37.13%,#2c53b2 38.83%,#2574cb 40.26%,#1e94e4 41.19%,#23a6a3 41.91%,#28b862 42.51%,#5eca70 43.08%,#94dc7e 43.60%,#c9ed8b 44.07%,#ffff99 44.52%,#ded487 44.91%,#c0ae77 45.25%,#a18766 45.59%,#805c54 45.96%,#a0857f 46.50%,#c0aeaa 47.06%,#dfd6d4 47.70%,#ffffff 48.49%,#ffffff 50.07%,#ffffff 51.66%,#dfd6d4 52.45%,#c0aeaa 53.08%,#a0857f 53.65%,#805c54 54.18%,#a18766 54.56%,#c0ae77 54.90%,#ded487 55.24%,#ffff99 55.63%,#c9ed8b 56.07%,#94dc7e 56.55%,#5eca70 57.06%,#28b862 57.63%,#23a6a3 58.23%,#1e94e4 58.95%,#2574cb 59.88%,#2c53b2 61.32%,#3040a3 63.01%,#32369c 65.30%,#333399 100.00%)"></div><div style="top:210.6px;height:3.3px;background:linear-gradient(90deg,#333399 0.00%,#32369c 34.65%,#3040a3 36.97%,#2c53b2 38.68%,#2574cb 40.14%,#1e94e4 41.08%,#23a6a3 41.81%,#28b862 42.42%,#5eca70 43.00%,#94dc7e 43.52%,#c9ed8b 44.00%,#ffff99 44.45%,#ded487 44.84%,#c0ae77 45.19%,#a18766 45.53%,#805c54 45.91%,#a0857f 46.45%,#c0aeaa 47.03%,#dfd6d4 47.67%,#ffffff 48.47%,#ffffff 50.07%,#ffffff 51.67%,#dfd6d4 52.48%,#c0aeaa 53.12%,#a0857f 53.69%,#805c54 54.23%,#a18766 54.61%,#c0ae77 54.96%,#ded487 55.30%,#ffff99 55.70%,#c9ed8b 56.15%,#94dc7e 56.63%,#5eca70 57.15%,#28b862 57.73%,#23a6a3 58.33%,#1e94e4 59.06%,#2574cb 60.00%,#2c53b2 61.46%,#3040a3 63.18%,#32369c 65.50%,#333399 100.00%)"></div><div style="top:213.6px;height:3.3px;background:linear-gradient(90deg,#333399 0.00%,#32369c 34.44%,#3040a3 36.80%,#2c53b2 38.54%,#2574cb 40.02%,#1e94e4 40.97%,#23a6a3 41.71%,#28b862 42.32%,#5eca70 42.91%,#94dc7e 43.44%,#c9ed8b 43.92%,#ffff99 44.38%,#ded487 44.78%,#c0ae77 45.13%,#a18766 45.48%,#805c54 45.86%,#a0857f 46.41%,#c0aeaa 46.99%,#dfd6d4 47.64%,#ffffff 48.45%,#ffffff 50.07%,#ffffff 51.69%,#dfd6d4 52.51%,#c0aeaa 53.16%,#a0857f 53.74%,#805c54 54.29%,#a18766 54.67%,#c0ae77 55.02%,#ded487 55.37%,#ffff99 55.77%,#c9ed8b 56.22%,#94dc7e 56.71%,#5eca70 57.23%,#28b862 57.82%,#23a6a3 58.44%,#1e94e4 59.17%,#2574cb 60.13%,#2c53b2 61.61%,#3040a3 63.35%,#32369c 65.70%,#333399 100.00%)"></div><div style="top:216.6px;height:3.3px;background:linear-gradient(90deg,#333399 0.00%,#32369c 34.24%,#3040a3 36.63%,#2c53b2 38.39%,#2574cb 39.89%,#1e94e4 40.86%,#23a6a3 41.61%,#28b862 42.23%,#5eca70 42.82%,#94dc7e 43.36%,#c9ed8b 43.85%,#ffff99 44.31%,#ded487 44.71%,#c0ae77 45.07%,#a18766 45.42%,#805c54 45.81%,#a0857f 46.36%,#c0aeaa 46.95%,#dfd6d4 47.61%,#ffffff 48.43%,#ffffff 50.07%,#ffffff 51.71%,#dfd6d4 52.54%,#c0aeaa 53.19%,#a0857f 53.78%,#805c54 54.34%,#a18766 54.73%,#c0ae77 55.08%,#ded487 55.43%,#ffff99 55.83%,#c9ed8b 56.30%,#94dc7e 56.79%,#5eca70 57.32%,#28b862 57.92%,#23a6a3 58.54%,#1e94e4 59.29%,#2574cb 60.26%,#2c53b2 61.75%,#3040a3 63.52%,#32369c 65.91%,#333399 100.00%)"></div><div style="top:219.6px;height:3.3px;background:linear-gradient(90deg,#333399 0.00%,#32369c 34.03%,#3040a3 36.45%,#2c53b2 38.25%,#2574cb 39.76%,#1e94e4 40.74%,#23a6a3 41.50%,#28b862 42.13%,#5eca70 42.73%,#94dc7e 43.27%,#c9ed8b 43.77%,#ffff99 44.24%,#ded487 44.65%,#c0ae77 45.01%,#a18766 45.36%,#805c54 45.76%,#a0857f 46.32%,#c0aeaa 46.91%,#dfd6d4 47.58%,#ffffff 48.41%,#ffffff 50.07%,#ffffff 51.73%,#dfd6d4 52.57%,#c0aeaa 53.23%,#a0857f 53.83%,#805c54 54.39%,#a18766 54.78%,#c0ae77 55.14%,#ded487 55.50%,#ffff99 55.91%,#c9ed8b 56.37%,#94dc7e 56.87%,#5eca70 57.41%,#28b862 58.01%,#23a6a3 58.64%,#1e94e4 59.40%,#2574cb 60.38%,#2c53b2 61.90%,#3040a3 63.69%,#32369c 66.12%,#333399 100.00%)"></div><div style="top:222.6px;height:3.3px;background:linear-gradient(90deg,#333399 0.00%,#32369c 33.81%,#3040a3 36.28%,#2c53b2 38.10%,#2574cb 39.63%,#1e94e4 40.63%,#23a6a3 41.39%,#28b862 42.03%,#5eca70 42.64%,#94dc7e 43.19%,#c9ed8b 43.69%,#ffff99 44.17%,#ded487 44.58%,#c0ae77 44.95%,#a18766 45.31%,#805c54 45.70%,#a0857f 46.27%,#c0aeaa 46.88%,#dfd6d4 47.55%,#ffffff 48.39%,#ffffff 50.07%,#ffffff 51.75%,#dfd6d4 52.60%,#c0aeaa 53.27%,#a0857f 53.87%,#805c54 54.44%,#a18766 54.84%,#c0ae77 55.20%,#ded487 55.56%,#ffff99 55.98%,#c9ed8b 56.45%,#94dc7e 56.95%,#5eca70 57.50%,#28b862 58.11%,#23a6a3 58.75%,#1e94e4 59.52%,#2574cb 60.51%,#2c53b2 62.05%,#3040a3 63.87%,#32369c 66.33%,#333399 100.00%)"></div><div style="top:225.6px;height:3.3px;background:linear-gradient(90deg,#333399 0.00%,#32369c 33.60%,#3040a3 36.10%,#2c53b2 37.94%,#2574cb 39.50%,#1e94e4 40.51%,#23a6a3 41.29%,#28b862 41.93%,#5eca70 42.55%,#94dc7e 43.11%,#c9ed8b 43.62%,#ffff99 44.10%,#ded487 44.52%,#c0ae77 44.88%,#a18766 45.25%,#805c54 45.65%,#a0857f 46.23%,#c0aeaa 46.84%,#dfd6d4 47.52%,#ffffff 48.37%,#ffffff 50.07%,#ffffff 51.77%,#dfd6d4 52.63%,#c0aeaa 53.31%,#a0857f 53.92%,#805c54 54.49%,#a18766 54.90%,#c0ae77 55.26%,#ded487 55.63%,#ffff99 56.05%,#c9ed8b 56.53%,#94dc7e 57.04%,#5eca70 57.59%,#28b862 58.21%,#23a6a3 58.86%,#1e94e4 59.63%,#2574cb 60.64%,#2c53b2 62.20%,#3040a3 64.05%,#32369c 66.55%,#333399 100.00%)"></div><div style="top:228.6px;height:3.3px;background:linear-gradient(90deg,#333399 0.00%,#32369c 33.38%,#3040a3 35.92%,#2c53b2 37.79%,#2574cb 39.37%,#1e94e4 40.39%,#23a6a3 41.18%,#28b862 41.83%,#5eca70 42.46%,#94dc7e 43.02%,#c9ed8b 43.54%,#ffff99 44.02%,#ded487 44.45%,#c0ae77 44.82%,#a18766 45.19%,#805c54 45.60%,#a0857f 46.18%,#c0aeaa 46.80%,#dfd6d4 47.49%,#ffffff 48.35%,#ffffff 50.07%,#ffffff 51.79%,#dfd6d4 52.66%,#c0aeaa 53.35%,#a0857f 53.96%,#805c54 54.55%,#a18766 54.96%,#c0ae77 55.33%,#ded487 55.70%,#ffff99 56.12%,#c9ed8b 56.61%,#94dc7e 57.13%,#5eca70 57.69%,#28b862 58.31%,#23a6a3 58.97%,#1e94e4 59.75%,#2574cb 60.78%,#2c53b2 62.36%,#3040a3 64.23%,#32369c 66.77%,#333399 100.00%)"></div><div style="top:231.6px;height:3.3px;background:linear-gradient(90deg,#333399 0.00%,#32369c 33.15%,#3040a3 35.73%,#2c53b2 37.63%,#2574cb 39.23%,#1e94e4 40.27%,#23a6a3 41.07%,#28b862 41.73%,#5eca70 42.36%,#94dc7e 42.93%,#c9ed8b 43.46%,#ffff99 43.95%,#ded487 44.38%,#c0ae77 44.76%,#a18766 45.13%,#805c54 45.54%,#a0857f 46.13%,#c0aeaa 46.76%,#dfd6d4 47.46%,#ffffff 48.33%,#ffffff 50.07%,#ffffff 51.82%,#dfd6d4 52.69%,#c0aeaa 53.39%,#a0857f 54.01%,#805c54 54.60%,#a18766 55.02%,#c0ae77 55.39%,#ded487 55.77%,#ffff99 56.20%,#c9ed8b 56.69%,#94dc7e 57.21%,#5eca70 57.78%,#28b862 58.41%,#23a6a3 59.08%,#1e94e4 59.88%,#2574cb 60.91%,#2c53b2 62.51%,#3040a3 64.41%,#32369c 66.99%,#333399 100.00%)"></div><div style="top:234.6px;height:3.3px;background:linear-gradient(90deg,#333399 0.00%,#32369c 32.93%,#3040a3 35.55%,#2c53b2 37.47%,#2574cb 39.10%,#1e94e4 40.15%,#23a6a3 40.95%,#28b862 41.63%,#5eca70 42.27%,#94dc7e 42.85%,#c9ed8b 43.38%,#ffff99 43.87%,#ded487 44.31%,#c0ae77 44.69%,#a18766 45.07%,#805c54 45.49%,#a0857f 46.09%,#c0aeaa 46.72%,#dfd6d4 47.42%,#ffffff 48.31%,#ffffff 50.07%,#ffffff 51.84%,#dfd6d4 52.72%,#c0aeaa 53.43%,#a0857f 54.06%,#805c54 54.66%,#a18766 55.08%,#c0ae77 55.45%,#ded487 55.84%,#ffff99 56.27%,#c9ed8b 56.77%,#94dc7e 57.30%,#5eca70 57.88%,#28b862 58.52%,#23a6a3 59.19%,#1e94e4 60.00%,#2574cb 61.05%,#2c53b2 62.67%,#3040a3 64.60%,#32369c 67.22%,#333399 100.00%)"></div><div style="top:237.6px;height:3.3px;background:linear-gradient(90deg,#333399 0.00%,#32369c 32.70%,#3040a3 35.36%,#2c53b2 37.31%,#2574cb 38.96%,#1e94e4 40.02%,#23a6a3 40.84%,#28b862 41.52%,#5eca70 42.17%,#94dc7e 42.76%,#c9ed8b 43.29%,#ffff99 43.80%,#ded487 44.24%,#c0ae77 44.63%,#a18766 45.01%,#805c54 45.43%,#a0857f 46.04%,#c0aeaa 46.68%,#dfd6d4 47.39%,#ffffff 48.29%,#ffffff 50.07%,#ffffff 51.86%,#dfd6d4 52.75%,#c0aeaa 53.47%,#a0857f 54.11%,#805c54 54.71%,#a18766 55.14%,#c0ae77 55.52%,#ded487 55.91%,#ffff99 56.35%,#c9ed8b 56.85%,#94dc7e 57.39%,#5eca70 57.97%,#28b862 58.62%,#23a6a3 59.30%,#1e94e4 60.12%,#2574cb 61.19%,#2c53b2 62.83%,#3040a3 64.79%,#32369c 67.45%,#333399 100.00%)"></div><div style="top:240.6px;height:3.3px;background:linear-gradient(90deg,#333399 0.00%,#32369c 32.46%,#3040a3 35.16%,#2c53b2 37.15%,#2574cb 38.82%,#1e94e4 39.90%,#23a6a3 40.73%,#28b862 41.42%,#5eca70 42.08%,#94dc7e 42.67%,#c9ed8b 43.21%,#ffff99 43.72%,#ded487 44.17%,#c0ae77 44.56%,#a18766 44.95%,#805c54 45.38%,#a0857f 45.99%,#c0aeaa 46.64%,#dfd6d4 47.36%,#ffffff 48.27%,#ffffff 50.07%,#ffffff 51.88%,#dfd6d4 52.79%,#c0aeaa 53.51%,#a0857f 54.16%,#805c54 54.77%,#a18766 55.20%,#c0ae77 55.59%,#ded487 55.98%,#ffff99 56.42%,#c9ed8b 56.94%,#94dc7e 57.48%,#5eca70 58.07%,#28b862 58.73%,#23a6a3 59.42%,#1e94e4 60.25%,#2574cb 61.33%,#2c53b2 63.00%,#3040a3 64.98%,#32369c 67.68%,#333399 100.00%)"></div><div style="top:243.6px;height:3.3px;background:linear-gradient(90deg,#333399 0.00%,#32369c 32.22%,#3040a3 34.97%,#2c53b2 36.98%,#2574cb 38.68%,#1e94e4 39.77%,#23a6a3 40.61%,#28b862 41.31%,#5eca70 41.98%,#94dc7e 42.57%,#c9ed8b 43.13%,#ffff99 43.64%,#ded487 44.09%,#c0ae77 44.49%,#a18766 44.88%,#805c54 45.32%,#a0857f 45.94%,#c0aeaa 46.59%,#dfd6d4 47.33%,#ffffff 48.24%,#ffffff 50.07%,#ffffff 51.90%,#dfd6d4 52.82%,#c0aeaa 53.55%,#a0857f 54.21%,#805c54 54.83%,#a18766 55.26%,#c0ae77 55.65%,#ded487 56.05%,#ffff99 56.50%,#c9ed8b 57.02%,#94dc7e 57.57%,#5eca70 58.17%,#28b862 58.84%,#23a6a3 59.54%,#1e94e4 60.38%,#2574cb 61.47%,#2c53b2 63.16%,#3040a3 65.18%,#32369c 67.92%,#333399 100.00%)"></div><div style="top:246.6px;height:3.3px;background:linear-gradient(90deg,#333399 0.00%,#32369c 31.98%,#3040a3 34.77%,#2c53b2 36.81%,#2574cb 38.53%,#1e94e4 39.64%,#23a6a3 40.49%,#28b862 41.20%,#5eca70 41.88%,#94dc7e 42.48%,#c9ed8b 43.04%,#ffff99 43.56%,#ded487 44.02%,#c0ae77 44.42%,#a18766 44.82%,#805c54 45.26%,#a0857f 45.89%,#c0aeaa 46.55%,#dfd6d4 47.29%,#ffffff 48.22%,#ffffff 50.07%,#ffffff 51.92%,#dfd6d4 52.85%,#c0aeaa 53.59%,#a0857f 54.26%,#805c54 54.89%,#a18766 55.33%,#c0ae77 55.72%,#ded487 56.12%,#ffff99 56.58%,#c9ed8b 57.11%,#94dc7e 57.66%,#5eca70 58.27%,#28b862 58.95%,#23a6a3 59.65%,#1e94e4 60.50%,#2574cb 61.61%,#2c53b2 63.33%,#3040a3 65.37%,#32369c 68.17%,#333399 100.00%)"></div><div style="top:249.6px;height:3.3px;background:linear-gradient(90deg,#333399 0.00%,#32369c 31.73%,#3040a3 34.57%,#2c53b2 36.64%,#2574cb 38.39%,#1e94e4 39.51%,#23a6a3 40.37%,#28b862 41.09%,#5eca70 41.78%,#94dc7e 42.39%,#c9ed8b 42.95%,#ffff99 43.48%,#ded487 43.95%,#c0ae77 44.35%,#a18766 44.76%,#805c54 45.20%,#a0857f 45.84%,#c0aeaa 46.51%,#dfd6d4 47.26%,#ffffff 48.20%,#ffffff 50.07%,#ffffff 51.95%,#dfd6d4 52.89%,#c0aeaa 53.64%,#a0857f 54.31%,#805c54 54.94%,#a18766 55.39%,#c0ae77 55.79%,#ded487 56.20%,#ffff99 56.66%,#c9ed8b 57.19%,#94dc7e 57.76%,#5eca70 58.37%,#28b862 59.06%,#23a6a3 59.77%,#1e94e4 60.64%,#2574cb 61.76%,#2c53b2 63.50%,#3040a3 65.58%,#32369c 68.41%,#333399 100.00%)"></div><div style="top:252.6px;height:3.3px;background:linear-gradient(90deg,#333399 0.00%,#32369c 31.48%,#3040a3 34.36%,#2c53b2 36.47%,#2574cb 38.24%,#1e94e4 39.38%,#23a6a3 40.25%,#28b862 40.98%,#5eca70 41.67%,#94dc7e 42.29%,#c9ed8b 42.87%,#ffff99 43.40%,#ded487 43.87%,#c0ae77 44.28%,#a18766 44.69%,#805c54 45.14%,#a0857f 45.79%,#c0aeaa 46.47%,#dfd6d4 47.23%,#ffffff 48.18%,#ffffff 50.07%,#ffffff 51.97%,#dfd6d4 52.92%,#c0aeaa 53.68%,#a0857f 54.36%,#805c54 55.00%,#a18766 55.45%,#c0ae77 55.86%,#ded487 56.27%,#ffff99 56.74%,#c9ed8b 57.28%,#94dc7e 57.85%,#5eca70 58.47%,#28b862 59.17%,#23a6a3 59.89%,#1e94e4 60.77%,#2574cb 61.91%,#2c53b2 63.67%,#3040a3 65.78%,#32369c 68.66%,#333399 100.00%)"></div><div style="top:255.6px;height:3.3px;background:linear-gradient(90deg,#333399 0.00%,#32369c 31.23%,#3040a3 34.16%,#2c53b2 36.29%,#2574cb 38.09%,#1e94e4 39.24%,#23a6a3 40.13%,#28b862 40.86%,#5eca70 41.57%,#94dc7e 42.20%,#c9ed8b 42.78%,#ffff99 43.32%,#ded487 43.80%,#c0ae77 44.21%,#a18766 44.62%,#805c54 45.08%,#a0857f 45.73%,#c0aeaa 46.42%,#dfd6d4 47.19%,#ffffff 48.15%,#ffffff 50.07%,#ffffff 51.99%,#dfd6d4 52.95%,#c0aeaa 53.72%,#a0857f 54.41%,#805c54 55.06%,#a18766 55.52%,#c0ae77 55.93%,#ded487 56.35%,#ffff99 56.82%,#c9ed8b 57.37%,#94dc7e 57.95%,#5eca70 58.58%,#28b862 59.28%,#23a6a3 60.02%,#1e94e4 60.90%,#2574cb 62.06%,#2c53b2 63.85%,#3040a3 65.99%,#32369c 68.92%,#333399 100.00%)"></div><div style="top:258.6px;height:3.3px;background:linear-gradient(90deg,#333399 0.00%,#32369c 30.97%,#3040a3 33.95%,#2c53b2 36.12%,#2574cb 37.93%,#1e94e4 39.11%,#23a6a3 40.00%,#28b862 40.75%,#5eca70 41.46%,#94dc7e 42.10%,#c9ed8b 42.69%,#ffff99 43.24%,#ded487 43.72%,#c0ae77 44.14%,#a18766 44.56%,#805c54 45.02%,#a0857f 45.68%,#c0aeaa 46.38%,#dfd6d4 47.16%,#ffffff 48.13%,#ffffff 50.07%,#ffffff 52.01%,#dfd6d4 52.99%,#c0aeaa 53.77%,#a0857f 54.46%,#805c54 55.12%,#a18766 55.59%,#c0ae77 56.00%,#ded487 56.43%,#ffff99 56.91%,#c9ed8b 57.46%,#94dc7e 58.04%,#5eca70 58.68%,#28b862 59.40%,#23a6a3 60.14%,#1e94e4 61.04%,#2574cb 62.21%,#2c53b2 64.03%,#3040a3 66.20%,#32369c 69.18%,#333399 100.00%)"></div><div style="top:261.6px;height:3.3px;background:linear-gradient(90deg,#333399 0.00%,#32369c 30.70%,#3040a3 33.73%,#2c53b2 35.94%,#2574cb 37.78%,#1e94e4 38.97%,#23a6a3 39.88%,#28b862 40.63%,#5eca70 41.36%,#94dc7e 42.00%,#c9ed8b 42.60%,#ffff99 43.15%,#ded487 43.64%,#c0ae77 44.07%,#a18766 44.49%,#805c54 44.96%,#a0857f 45.63%,#c0aeaa 46.33%,#dfd6d4 47.12%,#ffffff 48.11%,#ffffff 50.07%,#ffffff 52.04%,#dfd6d4 53.02%,#c0aeaa 53.81%,#a0857f 54.52%,#805c54 55.19%,#a18766 55.65%,#c0ae77 56.08%,#ded487 56.50%,#ffff99 56.99%,#c9ed8b 57.55%,#94dc7e 58.14%,#5eca70 58.79%,#28b862 59.51%,#23a6a3 60.27%,#1e94e4 61.18%,#2574cb 62.37%,#2c53b2 64.21%,#3040a3 66.41%,#32369c 69.44%,#333399 100.00%)"></div><div style="top:264.6px;height:3.3px;background:linear-gradient(90deg,#333399 0.00%,#32369c 30.43%,#3040a3 33.51%,#2c53b2 35.75%,#2574cb 37.62%,#1e94e4 38.83%,#23a6a3 39.75%,#28b862 40.52%,#5eca70 41.25%,#94dc7e 41.90%,#c9ed8b 42.50%,#ffff99 43.07%,#ded487 43.56%,#c0ae77 44.00%,#a18766 44.42%,#805c54 44.90%,#a0857f 45.57%,#c0aeaa 46.29%,#dfd6d4 47.09%,#ffffff 48.08%,#ffffff 50.07%,#ffffff 52.06%,#dfd6d4 53.06%,#c0aeaa 53.86%,#a0857f 54.57%,#805c54 55.25%,#a18766 55.72%,#c0ae77 56.15%,#ded487 56.58%,#ffff99 57.08%,#c9ed8b 57.64%,#94dc7e 58.24%,#5eca70 58.90%,#28b862 59.63%,#23a6a3 60.40%,#1e94e4 61.32%,#2574cb 62.52%,#2c53b2 64.39%,#3040a3 66.63%,#32369c 69.71%,#333399 100.00%)"></div><div style="top:267.6px;height:3.3px;background:linear-gradient(90deg,#333399 0.00%,#32369c 30.16%,#3040a3 33.29%,#2c53b2 35.57%,#2574cb 37.46%,#1e94e4 38.68%,#23a6a3 39.62%,#28b862 40.40%,#5eca70 41.14%,#94dc7e 41.80%,#c9ed8b 42.41%,#ffff99 42.98%,#ded487 43.48%,#c0ae77 43.92%,#a18766 44.35%,#805c54 44.83%,#a0857f 45.52%,#c0aeaa 46.24%,#dfd6d4 47.05%,#ffffff 48.06%,#ffffff 50.07%,#ffffff 52.09%,#dfd6d4 53.10%,#c0aeaa 53.90%,#a0857f 54.63%,#805c54 55.31%,#a18766 55.79%,#c0ae77 56.22%,#ded487 56.66%,#ffff99 57.16%,#c9ed8b 57.73%,#94dc7e 58.34%,#5eca70 59.01%,#28b862 59.75%,#23a6a3 60.53%,#1e94e4 61.46%,#2574cb 62.68%,#2c53b2 64.58%,#3040a3 66.85%,#32369c 69.99%,#333399 100.00%)"></div><div style="top:270.6px;height:3.3px;background:linear-gradient(90deg,#333399 0.00%,#32369c 29.88%,#3040a3 33.07%,#2c53b2 35.38%,#2574cb 37.30%,#1e94e4 38.54%,#23a6a3 39.49%,#28b862 40.28%,#5eca70 41.03%,#94dc7e 41.70%,#c9ed8b 42.32%,#ffff99 42.90%,#ded487 43.40%,#c0ae77 43.85%,#a18766 44.28%,#805c54 44.77%,#a0857f 45.46%,#c0aeaa 46.20%,#dfd6d4 47.01%,#ffffff 48.03%,#ffffff 50.07%,#ffffff 52.11%,#dfd6d4 53.13%,#c0aeaa 53.95%,#a0857f 54.68%,#805c54 55.38%,#a18766 55.86%,#c0ae77 56.30%,#ded487 56.74%,#ffff99 57.25%,#c9ed8b 57.83%,#94dc7e 58.45%,#5eca70 59.12%,#28b862 59.87%,#23a6a3 60.66%,#1e94e4 61.60%,#2574cb 62.84%,#2c53b2 64.77%,#3040a3 67.08%,#32369c 70.27%,#333399 100.00%)"></div><div style="top:273.6px;height:3.3px;background:linear-gradient(90deg,#333399 0.00%,#32369c 29.59%,#3040a3 32.84%,#2c53b2 35.18%,#2574cb 37.14%,#1e94e4 38.39%,#23a6a3 39.35%,#28b862 40.15%,#5eca70 40.91%,#94dc7e 41.59%,#c9ed8b 42.22%,#ffff99 42.81%,#ded487 43.32%,#c0ae77 43.77%,#a18766 44.21%,#805c54 44.70%,#a0857f 45.41%,#c0aeaa 46.15%,#dfd6d4 46.98%,#ffffff 48.01%,#ffffff 50.07%,#ffffff 52.14%,#dfd6d4 53.17%,#c0aeaa 54.00%,#a0857f 54.74%,#805c54 55.44%,#a18766 55.93%,#c0ae77 56.38%,#ded487 56.83%,#ffff99 57.34%,#c9ed8b 57.92%,#94dc7e 58.55%,#5eca70 59.23%,#28b862 59.99%,#23a6a3 60.79%,#1e94e4 61.75%,#2574cb 63.01%,#2c53b2 64.96%,#3040a3 67.31%,#32369c 70.55%,#333399 100.00%)"></div><div style="top:276.6px;height:3.3px;background:linear-gradient(90deg,#333399 0.00%,#32369c 29.30%,#3040a3 32.61%,#2c53b2 34.99%,#2574cb 36.97%,#1e94e4 38.25%,#23a6a3 39.22%,#28b862 40.03%,#5eca70 40.80%,#94dc7e 41.49%,#c9ed8b 42.12%,#ffff99 42.72%,#ded487 43.24%,#c0ae77 43.69%,#a18766 44.14%,#805c54 44.64%,#a0857f 45.35%,#c0aeaa 46.10%,#dfd6d4 46.94%,#ffffff 47.98%,#ffffff 50.07%,#ffffff 52.16%,#dfd6d4 53.21%,#c0aeaa 54.04%,#a0857f 54.80%,#805c54 55.51%,#a18766 56.00%,#c0ae77 56.45%,#ded487 56.91%,#ffff99 57.43%,#c9ed8b 58.02%,#94dc7e 58.66%,#5eca70 59.34%,#28b862 60.12%,#23a6a3 60.93%,#1e94e4 61.90%,#2574cb 63.17%,#2c53b2 65.16%,#3040a3 67.54%,#32369c 70.84%,#333399 100.00%)"></div><div style="top:279.6px;height:3.3px;background:linear-gradient(90deg,#333399 0.00%,#32369c 29.00%,#3040a3 32.37%,#2c53b2 34.79%,#2574cb 36.80%,#1e94e4 38.10%,#23a6a3 39.08%,#28b862 39.90%,#5eca70 40.68%,#94dc7e 41.38%,#c9ed8b 42.03%,#ffff99 42.63%,#ded487 43.15%,#c0ae77 43.61%,#a18766 44.07%,#805c54 44.57%,#a0857f 45.29%,#c0aeaa 46.05%,#dfd6d4 46.90%,#ffffff 47.96%,#ffffff 50.07%,#ffffff 52.19%,#dfd6d4 53.25%,#c0aeaa 54.09%,#a0857f 54.85%,#805c54 55.57%,#a18766 56.08%,#c0ae77 56.53%,#ded487 56.99%,#ffff99 57.52%,#c9ed8b 58.12%,#94dc7e 58.76%,#5eca70 59.46%,#28b862 60.24%,#23a6a3 61.06%,#1e94e4 62.05%,#2574cb 63.34%,#2c53b2 65.35%,#3040a3 67.77%,#32369c 71.14%,#333399 100.00%)"></div><div style="top:282.6px;height:3.3px;background:linear-gradient(90deg,#333399 0.00%,#32369c 28.70%,#3040a3 32.13%,#2c53b2 34.59%,#2574cb 36.63%,#1e94e4 37.94%,#23a6a3 38.94%,#28b862 39.78%,#5eca70 40.57%,#94dc7e 41.28%,#c9ed8b 41.93%,#ffff99 42.54%,#ded487 43.07%,#c0ae77 43.53%,#a18766 43.99%,#805c54 44.51%,#a0857f 45.23%,#c0aeaa 46.00%,#dfd6d4 46.86%,#ffffff 47.93%,#ffffff 50.07%,#ffffff 52.21%,#dfd6d4 53.28%,#c0aeaa 54.14%,#a0857f 54.91%,#805c54 55.64%,#a18766 56.15%,#c0ae77 56.61%,#ded487 57.08%,#ffff99 57.61%,#c9ed8b 58.22%,#94dc7e 58.87%,#5eca70 59.58%,#28b862 60.37%,#23a6a3 61.20%,#1e94e4 62.20%,#2574cb 63.51%,#2c53b2 65.56%,#3040a3 68.02%,#32369c 71.44%,#333399 100.00%)"></div><div style="top:285.6px;height:3.3px;background:linear-gradient(90deg,#333399 0.00%,#32369c 28.39%,#3040a3 31.89%,#2c53b2 34.39%,#2574cb 36.46%,#1e94e4 37.79%,#23a6a3 38.80%,#28b862 39.65%,#5eca70 40.45%,#94dc7e 41.17%,#c9ed8b 41.82%,#ffff99 42.44%,#ded487 42.98%,#c0ae77 43.45%,#a18766 43.92%,#805c54 44.44%,#a0857f 45.18%,#c0aeaa 45.95%,#dfd6d4 46.82%,#ffffff 47.91%,#ffffff 50.07%,#ffffff 52.24%,#dfd6d4 53.32%,#c0aeaa 54.19%,#a0857f 54.97%,#805c54 55.71%,#a18766 56.22%,#c0ae77 56.69%,#ded487 57.16%,#ffff99 57.70%,#c9ed8b 58.32%,#94dc7e 58.98%,#5eca70 59.70%,#28b862 60.50%,#23a6a3 61.34%,#1e94e4 62.36%,#2574cb 63.68%,#2c53b2 65.76%,#3040a3 68.26%,#32369c 71.75%,#333399 100.00%)"></div><div style="top:288.6px;height:3.3px;background:linear-gradient(90deg,#333399 0.00%,#32369c 28.08%,#3040a3 31.64%,#2c53b2 34.18%,#2574cb 36.28%,#1e94e4 37.63%,#23a6a3 38.66%,#28b862 39.52%,#5eca70 40.33%,#94dc7e 41.06%,#c9ed8b 41.72%,#ffff99 42.35%,#ded487 42.89%,#c0ae77 43.37%,#a18766 43.85%,#805c54 44.37%,#a0857f 45.12%,#c0aeaa 45.90%,#dfd6d4 46.78%,#ffffff 47.88%,#ffffff 50.07%,#ffffff 52.26%,#dfd6d4 53.36%,#c0aeaa 54.24%,#a0857f 55.03%,#805c54 55.78%,#a18766 56.30%,#c0ae77 56.77%,#ded487 57.25%,#ffff99 57.80%,#c9ed8b 58.42%,#94dc7e 59.09%,#5eca70 59.82%,#28b862 60.63%,#23a6a3 61.48%,#1e94e4 62.51%,#2574cb 63.86%,#2c53b2 65.97%,#3040a3 68.51%,#32369c 72.06%,#333399 100.00%)"></div><div style="top:291.6px;height:3.3px;background:linear-gradient(90deg,#333399 0.00%,#32369c 27.76%,#3040a3 31.38%,#2c53b2 33.97%,#2574cb 36.11%,#1e94e4 37.47%,#23a6a3 38.52%,#28b862 39.38%,#5eca70 40.21%,#94dc7e 40.94%,#c9ed8b 41.62%,#ffff99 42.25%,#ded487 42.81%,#c0ae77 43.29%,#a18766 43.77%,#805c54 44.30%,#a0857f 45.05%,#c0aeaa 45.85%,#dfd6d4 46.74%,#ffffff 47.86%,#ffffff 50.07%,#ffffff 52.29%,#dfd6d4 53.40%,#c0aeaa 54.29%,#a0857f 55.09%,#805c54 55.85%,#a18766 56.38%,#c0ae77 56.85%,#ded487 57.34%,#ffff99 57.89%,#c9ed8b 58.53%,#94dc7e 59.20%,#5eca70 59.94%,#28b862 60.76%,#23a6a3 61.63%,#1e94e4 62.67%,#2574cb 64.04%,#2c53b2 66.18%,#3040a3 68.76%,#32369c 72.39%,#333399 100.00%)"></div><div style="top:294.6px;height:3.3px;background:linear-gradient(90deg,#333399 0.00%,#32369c 27.43%,#3040a3 31.13%,#2c53b2 33.75%,#2574cb 35.93%,#1e94e4 37.31%,#23a6a3 38.37%,#28b862 39.25%,#5eca70 40.08%,#94dc7e 40.83%,#c9ed8b 41.51%,#ffff99 42.16%,#ded487 42.72%,#c0ae77 43.21%,#a18766 43.69%,#805c54 44.23%,#a0857f 44.99%,#c0aeaa 45.80%,#dfd6d4 46.70%,#ffffff 47.83%,#ffffff 50.07%,#ffffff 52.32%,#dfd6d4 53.44%,#c0aeaa 54.34%,#a0857f 55.15%,#805c54 55.92%,#a18766 56.45%,#c0ae77 56.94%,#ded487 57.43%,#ffff99 57.99%,#c9ed8b 58.63%,#94dc7e 59.32%,#5eca70 60.06%,#28b862 60.90%,#23a6a3 61.77%,#1e94e4 62.83%,#2574cb 64.22%,#2c53b2 66.39%,#3040a3 69.02%,#32369c 72.71%,#333399 100.00%)"></div><div style="top:297.6px;height:3.3px;background:linear-gradient(90deg,#333399 0.00%,#32369c 27.10%,#3040a3 30.86%,#2c53b2 33.54%,#2574cb 35.74%,#1e94e4 37.15%,#23a6a3 38.22%,#28b862 39.11%,#5eca70 39.96%,#94dc7e 40.71%,#c9ed8b 41.41%,#ffff99 42.06%,#ded487 42.63%,#c0ae77 43.12%,#a18766 43.61%,#805c54 44.16%,#a0857f 44.93%,#c0aeaa 45.75%,#dfd6d4 46.66%,#ffffff 47.80%,#ffffff 50.07%,#ffffff 52.34%,#dfd6d4 53.48%,#c0aeaa 54.40%,#a0857f 55.21%,#805c54 55.99%,#a18766 56.53%,#c0ae77 57.02%,#ded487 57.52%,#ffff99 58.09%,#c9ed8b 58.74%,#94dc7e 59.43%,#5eca70 60.19%,#28b862 61.03%,#23a6a3 61.92%,#1e94e4 63.00%,#2574cb 64.40%,#2c53b2 66.61%,#3040a3 69.28%,#32369c 73.05%,#333399 100.00%)"></div><div style="top:300.6px;height:3.3px;background:linear-gradient(90deg,#333399 0.00%,#32369c 26.76%,#3040a3 30.60%,#2c53b2 33.31%,#2574cb 35.55%,#1e94e4 36.98%,#23a6a3 38.07%,#28b862 38.97%,#5eca70 39.83%,#94dc7e 40.60%,#c9ed8b 41.30%,#ffff99 41.96%,#ded487 42.53%,#c0ae77 43.04%,#a18766 43.53%,#805c54 44.08%,#a0857f 44.87%,#c0aeaa 45.70%,#dfd6d4 46.62%,#ffffff 47.77%,#ffffff 50.07%,#ffffff 52.37%,#dfd6d4 53.53%,#c0aeaa 54.45%,#a0857f 55.28%,#805c54 56.06%,#a18766 56.61%,#c0ae77 57.11%,#ded487 57.61%,#ffff99 58.19%,#c9ed8b 58.84%,#94dc7e 59.55%,#5eca70 60.31%,#28b862 61.17%,#23a6a3 62.07%,#1e94e4 63.16%,#2574cb 64.59%,#2c53b2 66.83%,#3040a3 69.55%,#32369c 73.39%,#333399 100.00%)"></div><div style="top:303.6px;height:3.3px;background:linear-gradient(90deg,#333399 0.00%,#32369c 26.41%,#3040a3 30.33%,#2c53b2 33.09%,#2574cb 35.37%,#1e94e4 36.81%,#23a6a3 37.92%,#28b862 38.83%,#5eca70 39.70%,#94dc7e 40.48%,#c9ed8b 41.19%,#ffff99 41.86%,#ded487 42.44%,#c0ae77 42.95%,#a18766 43.45%,#805c54 44.01%,#a0857f 44.81%,#c0aeaa 45.64%,#dfd6d4 46.58%,#ffffff 47.75%,#ffffff 50.07%,#ffffff 52.40%,#dfd6d4 53.57%,#c0aeaa 54.50%,#a0857f 55.34%,#805c54 56.13%,#a18766 56.69%,#c0ae77 57.19%,#ded487 57.70%,#ffff99 58.29%,#c9ed8b 58.95%,#94dc7e 59.67%,#5eca70 60.44%,#28b862 61.31%,#23a6a3 62.23%,#1e94e4 63.33%,#2574cb 64.78%,#2c53b2 67.06%,#3040a3 69.82%,#32369c 73.74%,#333399 100.00%)"></div><div style="top:306.6px;height:3.3px;background:linear-gradient(90deg,#333399 0.00%,#32369c 26.05%,#3040a3 30.05%,#2c53b2 32.86%,#2574cb 35.17%,#1e94e4 36.64%,#23a6a3 37.76%,#28b862 38.69%,#5eca70 39.57%,#94dc7e 40.36%,#c9ed8b 41.08%,#ffff99 41.76%,#ded487 42.35%,#c0ae77 42.86%,#a18766 43.37%,#805c54 43.94%,#a0857f 44.74%,#c0aeaa 45.59%,#dfd6d4 46.54%,#ffffff 47.72%,#ffffff 50.07%,#ffffff 52.43%,#dfd6d4 53.61%,#c0aeaa 54.56%,#a0857f 55.40%,#805c54 56.21%,#a18766 56.77%,#c0ae77 57.28%,#ded487 57.80%,#ffff99 58.39%,#c9ed8b 59.06%,#94dc7e 59.79%,#5eca70 60.57%,#28b862 61.45%,#23a6a3 62.38%,#1e94e4 63.50%,#2574cb 64.97%,#2c53b2 67.28%,#3040a3 70.10%,#32369c 74.10%,#333399 100.00%)"></div><div style="top:309.6px;height:3.3px;background:linear-gradient(90deg,#333399 0.00%,#32369c 25.68%,#3040a3 29.77%,#2c53b2 32.63%,#2574cb 34.98%,#1e94e4 36.47%,#23a6a3 37.61%,#28b862 38.55%,#5eca70 39.44%,#94dc7e 40.24%,#c9ed8b 40.97%,#ffff99 41.66%,#ded487 42.25%,#c0ae77 42.77%,#a18766 43.29%,#805c54 43.86%,#a0857f 44.68%,#c0aeaa 45.53%,#dfd6d4 46.49%,#ffffff 47.69%,#ffffff 50.07%,#ffffff 52.46%,#dfd6d4 53.65%,#c0aeaa 54.61%,#a0857f 55.47%,#805c54 56.28%,#a18766 56.85%,#c0ae77 57.37%,#ded487 57.89%,#ffff99 58.49%,#c9ed8b 59.18%,#94dc7e 59.91%,#5eca70 60.70%,#28b862 61.60%,#23a6a3 62.54%,#1e94e4 63.67%,#2574cb 65.17%,#2c53b2 67.52%,#3040a3 70.38%,#32369c 74.46%,#333399 100.00%)"></div><div style="top:312.6px;height:3.3px;background:linear-gradient(90deg,#333399 0.00%,#32369c 25.31%,#3040a3 29.48%,#2c53b2 32.39%,#2574cb 34.78%,#1e94e4 36.29%,#23a6a3 37.45%,#28b862 38.40%,#5eca70 39.31%,#94dc7e 40.12%,#c9ed8b 40.86%,#ffff99 41.55%,#ded487 42.15%,#c0ae77 42.68%,#a18766 43.21%,#805c54 43.79%,#a0857f 44.61%,#c0aeaa 45.48%,#dfd6d4 46.45%,#ffffff 47.66%,#ffffff 50.07%,#ffffff 52.48%,#dfd6d4 53.70%,#c0aeaa 54.67%,#a0857f 55.54%,#805c54 56.36%,#a18766 56.94%,#c0ae77 57.46%,#ded487 57.99%,#ffff99 58.59%,#c9ed8b 59.29%,#94dc7e 60.03%,#5eca70 60.84%,#28b862 61.74%,#23a6a3 62.70%,#1e94e4 63.85%,#2574cb 65.37%,#2c53b2 67.75%,#3040a3 70.66%,#32369c 74.84%,#333399 100.00%)"></div><div style="top:315.6px;height:3.3px;background:linear-gradient(90deg,#333399 0.00%,#32369c 24.93%,#3040a3 29.19%,#2c53b2 32.15%,#2574cb 34.58%,#1e94e4 36.12%,#23a6a3 37.29%,#28b862 38.25%,#5eca70 39.17%,#94dc7e 39.99%,#c9ed8b 40.74%,#ffff99 41.45%,#ded487 42.06%,#c0ae77 42.59%,#a18766 43.12%,#805c54 43.71%,#a0857f 44.54%,#c0aeaa 45.42%,#dfd6d4 46.40%,#ffffff 47.63%,#ffffff 50.07%,#ffffff 52.51%,#dfd6d4 53.74%,#c0aeaa 54.72%,#a0857f 55.60%,#805c54 56.44%,#a18766 57.02%,#c0ae77 57.55%,#ded487 58.09%,#ffff99 58.70%,#c9ed8b 59.40%,#94dc7e 60.15%,#5eca70 60.97%,#28b862 61.89%,#23a6a3 62.86%,#1e94e4 64.03%,#2574cb 65.57%,#2c53b2 67.99%,#3040a3 70.96%,#32369c 75.22%,#333399 100.00%)"></div><div style="top:318.6px;height:3.3px;background:linear-gradient(90deg,#333399 0.00%,#32369c 24.53%,#3040a3 28.89%,#2c53b2 31.91%,#2574cb 34.37%,#1e94e4 35.94%,#23a6a3 37.12%,#28b862 38.10%,#5eca70 39.03%,#94dc7e 39.86%,#c9ed8b 40.62%,#ffff99 41.34%,#ded487 41.96%,#c0ae77 42.50%,#a18766 43.04%,#805c54 43.63%,#a0857f 44.48%,#c0aeaa 45.37%,#dfd6d4 46.36%,#ffffff 47.60%,#ffffff 50.07%,#ffffff 52.54%,#dfd6d4 53.78%,#c0aeaa 54.78%,#a0857f 55.67%,#805c54 56.51%,#a18766 57.11%,#c0ae77 57.64%,#ded487 58.19%,#ffff99 58.81%,#c9ed8b 59.52%,#94dc7e 60.28%,#5eca70 61.11%,#28b862 62.04%,#23a6a3 63.02%,#1e94e4 64.21%,#2574cb 65.77%,#2c53b2 68.24%,#3040a3 71.26%,#32369c 75.61%,#333399 100.00%)"></div><div style="top:321.6px;height:3.3px;background:linear-gradient(90deg,#333399 0.00%,#32369c 24.13%,#3040a3 28.59%,#2c53b2 31.66%,#2574cb 34.17%,#1e94e4 35.75%,#23a6a3 36.96%,#28b862 37.95%,#5eca70 38.90%,#94dc7e 39.74%,#c9ed8b 40.51%,#ffff99 41.23%,#ded487 41.86%,#c0ae77 42.41%,#a18766 42.95%,#805c54 43.55%,#a0857f 44.41%,#c0aeaa 45.31%,#dfd6d4 46.32%,#ffffff 47.57%,#ffffff 50.07%,#ffffff 52.57%,#dfd6d4 53.83%,#c0aeaa 54.84%,#a0857f 55.74%,#805c54 56.59%,#a18766 57.19%,#c0ae77 57.74%,#ded487 58.29%,#ffff99 58.92%,#c9ed8b 59.64%,#94dc7e 60.41%,#5eca70 61.25%,#28b862 62.19%,#23a6a3 63.19%,#1e94e4 64.39%,#2574cb 65.98%,#2c53b2 68.48%,#3040a3 71.56%,#32369c 76.02%,#333399 100.00%)"></div><div style="top:324.6px;height:3.3px;background:linear-gradient(90deg,#333399 0.00%,#32369c 23.72%,#3040a3 28.27%,#2c53b2 31.41%,#2574cb 33.96%,#1e94e4 35.57%,#23a6a3 36.79%,#28b862 37.80%,#5eca70 38.75%,#94dc7e 39.61%,#c9ed8b 40.39%,#ffff99 41.12%,#ded487 41.76%,#c0ae77 42.31%,#a18766 42.86%,#805c54 43.47%,#a0857f 44.34%,#c0aeaa 45.25%,#dfd6d4 46.27%,#ffffff 47.54%,#ffffff 50.07%,#ffffff 52.60%,#dfd6d4 53.88%,#c0aeaa 54.89%,#a0857f 55.81%,#805c54 56.67%,#a18766 57.28%,#c0ae77 57.83%,#ded487 58.39%,#ffff99 59.03%,#c9ed8b 59.76%,#94dc7e 60.54%,#5eca70 61.39%,#28b862 62.35%,#23a6a3 63.36%,#1e94e4 64.58%,#2574cb 66.19%,#2c53b2 68.74%,#3040a3 71.87%,#32369c 76.43%,#333399 100.00%)"></div><div style="top:327.6px;height:3.3px;background:linear-gradient(90deg,#333399 0.00%,#32369c 23.29%,#3040a3 27.96%,#2c53b2 31.15%,#2574cb 33.74%,#1e94e4 35.38%,#23a6a3 36.62%,#28b862 37.64%,#5eca70 38.61%,#94dc7e 39.47%,#c9ed8b 40.27%,#ffff99 41.01%,#ded487 41.65%,#c0ae77 42.22%,#a18766 42.77%,#805c54 43.39%,#a0857f 44.27%,#c0aeaa 45.19%,#dfd6d4 46.22%,#ffffff 47.51%,#ffffff 50.07%,#ffffff 52.63%,#dfd6d4 53.92%,#c0aeaa 54.95%,#a0857f 55.88%,#805c54 56.75%,#a18766 57.37%,#c0ae77 57.93%,#ded487 58.49%,#ffff99 59.14%,#c9ed8b 59.88%,#94dc7e 60.67%,#5eca70 61.53%,#28b862 62.51%,#23a6a3 63.53%,#1e94e4 64.77%,#2574cb 66.40%,#2c53b2 68.99%,#3040a3 72.19%,#32369c 76.85%,#333399 100.00%)"></div><div style="top:330.6px;height:3.3px;background:linear-gradient(90deg,#333399 0.00%,#32369c 22.86%,#3040a3 27.63%,#2c53b2 30.89%,#2574cb 33.52%,#1e94e4 35.18%,#23a6a3 36.44%,#28b862 37.48%,#5eca70 38.47%,#94dc7e 39.34%,#c9ed8b 40.14%,#ffff99 40.90%,#ded487 41.55%,#c0ae77 42.12%,#a18766 42.68%,#805c54 43.31%,#a0857f 44.20%,#c0aeaa 45.13%,#dfd6d4 46.18%,#ffffff 47.48%,#ffffff 50.07%,#ffffff 52.67%,#dfd6d4 53.97%,#c0aeaa 55.01%,#a0857f 55.95%,#805c54 56.84%,#a18766 57.46%,#c0ae77 58.02%,#ded487 58.60%,#ffff99 59.25%,#c9ed8b 60.00%,#94dc7e 60.80%,#5eca70 61.68%,#28b862 62.66%,#23a6a3 63.70%,#1e94e4 64.96%,#2574cb 66.62%,#2c53b2 69.25%,#3040a3 72.51%,#32369c 77.29%,#333399 100.00%)"></div><div style="top:333.6px;height:3.3px;background:linear-gradient(90deg,#333399 0.00%,#32369c 22.41%,#3040a3 27.30%,#2c53b2 30.62%,#2574cb 33.30%,#1e94e4 34.99%,#23a6a3 36.27%,#28b862 37.32%,#5eca70 38.32%,#94dc7e 39.21%,#c9ed8b 40.02%,#ffff99 40.78%,#ded487 41.44%,#c0ae77 42.02%,#a18766 42.59%,#805c54 43.23%,#a0857f 44.12%,#c0aeaa 45.07%,#dfd6d4 46.13%,#ffffff 47.45%,#ffffff 50.07%,#ffffff 52.70%,#dfd6d4 54.02%,#c0aeaa 55.07%,#a0857f 56.02%,#805c54 56.92%,#a18766 57.55%,#c0ae77 58.12%,#ded487 58.70%,#ffff99 59.36%,#c9ed8b 60.13%,#94dc7e 60.94%,#5eca70 61.83%,#28b862 62.83%,#23a6a3 63.88%,#1e94e4 65.16%,#2574cb 66.84%,#2c53b2 69.52%,#3040a3 72.84%,#32369c 77.74%,#333399 100.00%)"></div><div style="top:336.6px;height:3.3px;background:linear-gradient(90deg,#333399 0.00%,#32369c 21.94%,#3040a3 26.97%,#2c53b2 30.35%,#2574cb 33.08%,#1e94e4 34.79%,#23a6a3 36.09%,#28b862 37.16%,#5eca70 38.17%,#94dc7e 39.07%,#c9ed8b 39.89%,#ffff99 40.67%,#ded487 41.34%,#c0ae77 41.92%,#a18766 42.50%,#805c54 43.14%,#a0857f 44.05%,#c0aeaa 45.01%,#dfd6d4 46.08%,#ffffff 47.42%,#ffffff 50.07%,#ffffff 52.73%,#dfd6d4 54.06%,#c0aeaa 55.13%,#a0857f 56.09%,#805c54 57.00%,#a18766 57.64%,#c0ae77 58.22%,#ded487 58.81%,#ffff99 59.48%,#c9ed8b 60.25%,#94dc7e 61.08%,#5eca70 61.98%,#28b862 62.99%,#23a6a3 64.06%,#1e94e4 65.35%,#2574cb 67.07%,#2c53b2 69.79%,#3040a3 73.18%,#32369c 78.20%,#333399 100.00%)"></div><div style="top:339.6px;height:3.3px;background:linear-gradient(90deg,#333399 0.00%,#32369c 21.47%,#3040a3 26.62%,#2c53b2 30.08%,#2574cb 32.85%,#1e94e4 34.59%,#23a6a3 35.91%,#28b862 36.99%,#5eca70 38.02%,#94dc7e 38.93%,#c9ed8b 39.77%,#ffff99 40.55%,#ded487 41.23%,#c0ae77 41.82%,#a18766 42.41%,#805c54 43.06%,#a0857f 43.98%,#c0aeaa 44.95%,#dfd6d4 46.03%,#ffffff 47.38%,#ffffff 50.07%,#ffffff 52.76%,#dfd6d4 54.11%,#c0aeaa 55.19%,#a0857f 56.17%,#805c54 57.09%,#a18766 57.74%,#c0ae77 58.32%,#ded487 58.92%,#ffff99 59.60%,#c9ed8b 60.38%,#94dc7e 61.21%,#5eca70 62.13%,#28b862 63.15%,#23a6a3 64.24%,#1e94e4 65.56%,#2574cb 67.30%,#2c53b2 70.07%,#3040a3 73.52%,#32369c 78.68%,#333399 100.00%)"></div><div style="top:342.6px;height:3.3px;background:linear-gradient(90deg,#333399 0.00%,#32369c 20.97%,#3040a3 26.27%,#2c53b2 29.80%,#2574cb 32.62%,#1e94e4 34.39%,#23a6a3 35.72%,#28b862 36.82%,#5eca70 37.86%,#94dc7e 38.79%,#c9ed8b 39.64%,#ffff99 40.43%,#ded487 41.12%,#c0ae77 41.72%,#a18766 42.31%,#805c54 42.97%,#a0857f 43.90%,#c0aeaa 44.89%,#dfd6d4 45.98%,#ffffff 47.35%,#ffffff 50.07%,#ffffff 52.79%,#dfd6d4 54.16%,#c0aeaa 55.26%,#a0857f 56.24%,#805c54 57.18%,#a18766 57.83%,#c0ae77 58.43%,#ded487 59.03%,#ffff99 59.72%,#c9ed8b 60.51%,#94dc7e 61.36%,#5eca70 62.28%,#28b862 63.32%,#23a6a3 64.42%,#1e94e4 65.76%,#2574cb 67.53%,#2c53b2 70.35%,#3040a3 73.88%,#32369c 79.17%,#333399 100.00%)"></div><div style="top:345.6px;height:3.3px;background:linear-gradient(90deg,#333399 0.00%,#32369c 20.47%,#3040a3 25.91%,#2c53b2 29.51%,#2574cb 32.38%,#1e94e4 34.18%,#23a6a3 35.54%,#28b862 36.65%,#5eca70 37.71%,#94dc7e 38.65%,#c9ed8b 39.51%,#ffff99 40.31%,#ded487 41.01%,#c0ae77 41.62%,#a18766 42.22%,#805c54 42.88%,#a0857f 43.83%,#c0aeaa 44.82%,#dfd6d4 45.93%,#ffffff 47.32%,#ffffff 50.07%,#ffffff 52.83%,#dfd6d4 54.21%,#c0aeaa 55.32%,#a0857f 56.32%,#805c54 57.26%,#a18766 57.93%,#c0ae77 58.53%,#ded487 59.14%,#ffff99 59.84%,#c9ed8b 60.64%,#94dc7e 61.50%,#5eca70 62.44%,#28b862 63.49%,#23a6a3 64.61%,#1e94e4 65.97%,#2574cb 67.76%,#2c53b2 70.64%,#3040a3 74.24%,#32369c 79.68%,#333399 100.00%)"></div><div style="top:348.6px;height:3.3px;background:linear-gradient(90deg,#333399 0.00%,#32369c 19.94%,#3040a3 25.54%,#2c53b2 29.22%,#2574cb 32.14%,#1e94e4 33.97%,#23a6a3 35.35%,#28b862 36.48%,#5eca70 37.55%,#94dc7e 38.50%,#c9ed8b 39.37%,#ffff99 40.19%,#ded487 40.89%,#c0ae77 41.51%,#a18766 42.12%,#805c54 42.79%,#a0857f 43.75%,#c0aeaa 44.76%,#dfd6d4 45.88%,#ffffff 47.28%,#ffffff 50.07%,#ffffff 52.86%,#dfd6d4 54.26%,#c0aeaa 55.38%,#a0857f 56.39%,#805c54 57.35%,#a18766 58.03%,#c0ae77 58.63%,#ded487 59.25%,#ffff99 59.96%,#c9ed8b 60.77%,#94dc7e 61.64%,#5eca70 62.59%,#28b862 63.67%,#23a6a3 64.80%,#1e94e4 66.18%,#2574cb 68.00%,#2c53b2 70.93%,#3040a3 74.60%,#32369c 80.21%,#333399 100.00%)"></div><div style="top:351.6px;height:3.3px;background:linear-gradient(90deg,#333399 0.00%,#32369c 19.39%,#3040a3 25.16%,#2c53b2 28.92%,#2574cb 31.90%,#1e94e4 33.75%,#23a6a3 35.15%,#28b862 36.30%,#5eca70 37.39%,#94dc7e 38.36%,#c9ed8b 39.24%,#ffff99 40.06%,#ded487 40.78%,#c0ae77 41.40%,#a18766 42.02%,#805c54 42.70%,#a0857f 43.67%,#c0aeaa 44.70%,#dfd6d4 45.83%,#ffffff 47.25%,#ffffff 50.07%,#ffffff 52.89%,#dfd6d4 54.31%,#c0aeaa 55.45%,#a0857f 56.47%,#805c54 57.44%,#a18766 58.12%,#c0ae77 58.74%,#ded487 59.37%,#ffff99 60.08%,#c9ed8b 60.91%,#94dc7e 61.79%,#5eca70 62.75%,#28b862 63.84%,#23a6a3 64.99%,#1e94e4 66.39%,#2574cb 68.25%,#2c53b2 71.23%,#3040a3 74.98%,#32369c 80.75%,#333399 100.00%)"></div><div style="top:354.6px;height:3.3px;background:linear-gradient(90deg,#333399 0.00%,#32369c 18.83%,#3040a3 24.78%,#2c53b2 28.62%,#2574cb 31.65%,#1e94e4 33.54%,#23a6a3 34.96%,#28b862 36.12%,#5eca70 37.23%,#94dc7e 38.21%,#c9ed8b 39.10%,#ffff99 39.94%,#ded487 40.66%,#c0ae77 41.30%,#a18766 41.92%,#805c54 42.61%,#a0857f 43.60%,#c0aeaa 44.63%,#dfd6d4 45.78%,#ffffff 47.22%,#ffffff 50.07%,#ffffff 52.93%,#dfd6d4 54.36%,#c0aeaa 55.52%,#a0857f 56.55%,#805c54 57.53%,#a18766 58.22%,#c0ae77 58.85%,#ded487 59.48%,#ffff99 60.21%,#c9ed8b 61.04%,#94dc7e 61.94%,#5eca70 62.92%,#28b862 64.02%,#23a6a3 65.19%,#1e94e4 66.61%,#2574cb 68.50%,#2c53b2 71.53%,#3040a3 75.37%,#32369c 81.32%,#333399 100.00%)"></div><div style="top:357.6px;height:3.3px;background:linear-gradient(90deg,#333399 0.00%,#32369c 18.24%,#3040a3 24.38%,#2c53b2 28.31%,#2574cb 31.39%,#1e94e4 33.31%,#23a6a3 34.76%,#28b862 35.94%,#5eca70 37.06%,#94dc7e 38.06%,#c9ed8b 38.96%,#ffff99 39.81%,#ded487 40.55%,#c0ae77 41.19%,#a18766 41.82%,#805c54 42.52%,#a0857f 43.52%,#c0aeaa 44.56%,#dfd6d4 45.73%,#ffffff 47.18%,#ffffff 50.07%,#ffffff 52.96%,#dfd6d4 54.42%,#c0aeaa 55.58%,#a0857f 56.63%,#805c54 57.62%,#a18766 58.32%,#c0ae77 58.96%,#ded487 59.60%,#ffff99 60.33%,#c9ed8b 61.18%,#94dc7e 62.09%,#5eca70 63.08%,#28b862 64.20%,#23a6a3 65.39%,#1e94e4 66.83%,#2574cb 68.75%,#2c53b2 71.84%,#3040a3 75.77%,#32369c 81.91%,#333399 100.00%)"></div><div style="top:360.6px;height:3.3px;background:linear-gradient(90deg,#333399 0.00%,#32369c 17.62%,#3040a3 23.97%,#2c53b2 27.99%,#2574cb 31.14%,#1e94e4 33.09%,#23a6a3 34.56%,#28b862 35.76%,#5eca70 36.90%,#94dc7e 37.90%,#c9ed8b 38.82%,#ffff99 39.68%,#ded487 40.43%,#c0ae77 41.08%,#a18766 41.72%,#805c54 42.43%,#a0857f 43.44%,#c0aeaa 44.50%,#dfd6d4 45.68%,#ffffff 47.15%,#ffffff 50.07%,#ffffff 53.00%,#dfd6d4 54.47%,#c0aeaa 55.65%,#a0857f 56.71%,#805c54 57.72%,#a18766 58.43%,#c0ae77 59.07%,#ded487 59.72%,#ffff99 60.46%,#c9ed8b 61.32%,#94dc7e 62.24%,#5eca70 63.25%,#28b862 64.38%,#23a6a3 65.59%,#1e94e4 67.05%,#2574cb 69.01%,#2c53b2 72.16%,#3040a3 76.17%,#32369c 82.52%,#333399 100.00%)"></div><div style="top:363.6px;height:3.3px;background:linear-gradient(90deg,#333499 0.00%,#32369c 16.98%,#3040a3 23.55%,#2c53b2 27.67%,#2574cb 30.88%,#1e94e4 32.86%,#23a6a3 34.35%,#28b862 35.57%,#5eca70 36.73%,#94dc7e 37.75%,#c9ed8b 38.68%,#ffff99 39.55%,#ded487 40.31%,#c0ae77 40.97%,#a18766 41.62%,#805c54 42.33%,#a0857f 43.35%,#c0aeaa 44.43%,#dfd6d4 45.62%,#ffffff 47.11%,#ffffff 50.07%,#ffffff 53.03%,#dfd6d4 54.52%,#c0aeaa 55.72%,#a0857f 56.79%,#805c54 57.81%,#a18766 58.53%,#c0ae77 59.18%,#ded487 59.84%,#ffff99 60.59%,#c9ed8b 61.46%,#94dc7e 62.40%,#5eca70 63.42%,#28b862 64.57%,#23a6a3 65.79%,#1e94e4 67.28%,#2574cb 69.27%,#2c53b2 72.48%,#3040a3 76.59%,#32369c 83.17%,#333499 100.00%)"></div><div style="top:366.6px;height:3.3px;background:linear-gradient(90deg,#33349a 0.00%,#32369c 16.30%,#3040a3 23.13%,#2c53b2 27.34%,#2574cb 30.61%,#1e94e4 32.63%,#23a6a3 34.14%,#28b862 35.38%,#5eca70 36.55%,#94dc7e 37.59%,#c9ed8b 38.54%,#ffff99 39.42%,#ded487 40.18%,#c0ae77 40.85%,#a18766 41.51%,#805c54 42.24%,#a0857f 43.27%,#c0aeaa 44.36%,#dfd6d4 45.57%,#ffffff 47.08%,#ffffff 50.07%,#ffffff 53.07%,#dfd6d4 54.58%,#c0aeaa 55.79%,#a0857f 56.87%,#805c54 57.91%,#a18766 58.63%,#c0ae77 59.29%,#ded487 59.96%,#ffff99 60.73%,#c9ed8b 61.61%,#94dc7e 62.55%,#5eca70 63.59%,#28b862 64.76%,#23a6a3 66.00%,#1e94e4 67.52%,#2574cb 69.54%,#2c53b2 72.81%,#3040a3 77.02%,#32369c 83.84%,#33349a 100.00%)"></div><div style="top:369.6px;height:3.3px;background:linear-gradient(90deg,#33349a 0.00%,#32369c 15.59%,#3040a3 22.68%,#2c53b2 27.00%,#2574cb 30.34%,#1e94e4 32.39%,#23a6a3 33.93%,#28b862 35.19%,#5eca70 36.38%,#94dc7e 37.43%,#c9ed8b 38.39%,#ffff99 39.28%,#ded487 40.06%,#c0ae77 40.74%,#a18766 41.40%,#805c54 42.14%,#a0857f 43.19%,#c0aeaa 44.29%,#dfd6d4 45.51%,#ffffff 47.04%,#ffffff 50.07%,#ffffff 53.11%,#dfd6d4 54.63%,#c0aeaa 55.86%,#a0857f 56.96%,#805c54 58.00%,#a18766 58.74%,#c0ae77 59.41%,#ded487 60.08%,#ffff99 60.86%,#c9ed8b 61.75%,#94dc7e 62.71%,#5eca70 63.76%,#28b862 64.95%,#23a6a3 66.21%,#1e94e4 67.75%,#2574cb 69.81%,#2c53b2 73.14%,#3040a3 77.46%,#32369c 84.55%,#33349a 100.00%)"></div><div style="top:372.6px;height:3.3px;background:linear-gradient(90deg,#33349a 0.00%,#32369c 14.84%,#3040a3 22.23%,#2c53b2 26.66%,#2574cb 30.06%,#1e94e4 32.15%,#23a6a3 33.72%,#28b862 35.00%,#5eca70 36.20%,#94dc7e 37.27%,#c9ed8b 38.24%,#ffff99 39.15%,#ded487 39.93%,#c0ae77 40.62%,#a18766 41.30%,#805c54 42.04%,#a0857f 43.10%,#c0aeaa 44.22%,#dfd6d4 45.46%,#ffffff 47.00%,#ffffff 50.07%,#ffffff 53.14%,#dfd6d4 54.69%,#c0aeaa 55.93%,#a0857f 57.04%,#805c54 58.10%,#a18766 58.85%,#c0ae77 59.52%,#ded487 60.21%,#ffff99 61.00%,#c9ed8b 61.90%,#94dc7e 62.88%,#5eca70 63.94%,#28b862 65.15%,#23a6a3 66.43%,#1e94e4 67.99%,#2574cb 70.08%,#2c53b2 73.49%,#3040a3 77.92%,#32369c 85.31%,#33349a 100.00%)"></div><div style="top:375.6px;height:3.3px;background:linear-gradient(90deg,#33349a 0.00%,#32369c 14.04%,#3040a3 21.76%,#2c53b2 26.31%,#2574cb 29.78%,#1e94e4 31.91%,#23a6a3 33.50%,#28b862 34.80%,#5eca70 36.02%,#94dc7e 37.11%,#c9ed8b 38.09%,#ffff99 39.01%,#ded487 39.81%,#c0ae77 40.50%,#a18766 41.19%,#805c54 41.94%,#a0857f 43.02%,#c0aeaa 44.15%,#dfd6d4 45.40%,#ffffff 46.97%,#ffffff 50.07%,#ffffff 53.18%,#dfd6d4 54.74%,#c0aeaa 56.00%,#a0857f 57.13%,#805c54 58.20%,#a18766 58.96%,#c0ae77 59.64%,#ded487 60.34%,#ffff99 61.13%,#c9ed8b 62.05%,#94dc7e 63.04%,#5eca70 64.12%,#28b862 65.34%,#23a6a3 66.64%,#1e94e4 68.24%,#2574cb 70.37%,#2c53b2 73.84%,#3040a3 78.38%,#32369c 86.11%,#33349a 100.00%)"></div><div style="top:378.6px;height:3.3px;background:linear-gradient(90deg,#33349a 0.00%,#32369c 13.18%,#3040a3 21.28%,#2c53b2 25.95%,#2574cb 29.49%,#1e94e4 31.66%,#23a6a3 33.28%,#28b862 34.60%,#5eca70 35.84%,#94dc7e 36.94%,#c9ed8b 37.94%,#ffff99 38.87%,#ded487 39.68%,#c0ae77 40.38%,#a18766 41.08%,#805c54 41.84%,#a0857f 42.93%,#c0aeaa 44.07%,#dfd6d4 45.34%,#ffffff 46.93%,#ffffff 50.07%,#ffffff 53.22%,#dfd6d4 54.80%,#c0aeaa 56.07%,#a0857f 57.21%,#805c54 58.30%,#a18766 59.07%,#c0ae77 59.76%,#ded487 60.47%,#ffff99 61.27%,#c9ed8b 62.21%,#94dc7e 63.21%,#5eca70 64.30%,#28b862 65.55%,#23a6a3 66.87%,#1e94e4 68.48%,#2574cb 70.65%,#2c53b2 74.20%,#3040a3 78.87%,#32369c 86.97%,#33349a 100.00%)"></div><div style="top:381.6px;height:3.3px;background:linear-gradient(90deg,#33349a 0.00%,#32369c 12.25%,#3040a3 20.78%,#2c53b2 25.58%,#2574cb 29.20%,#1e94e4 31.41%,#23a6a3 33.05%,#28b862 34.40%,#5eca70 35.66%,#94dc7e 36.77%,#c9ed8b 37.78%,#ffff99 38.73%,#ded487 39.55%,#c0ae77 40.26%,#a18766 40.97%,#805c54 41.74%,#a0857f 42.84%,#c0aeaa 44.00%,#dfd6d4 45.29%,#ffffff 46.89%,#ffffff 50.07%,#ffffff 53.26%,#dfd6d4 54.86%,#c0aeaa 56.14%,#a0857f 57.30%,#805c54 58.40%,#a18766 59.18%,#c0ae77 59.88%,#ded487 60.60%,#ffff99 61.42%,#c9ed8b 62.36%,#94dc7e 63.37%,#5eca70 64.49%,#28b862 65.75%,#23a6a3 67.09%,#1e94e4 68.74%,#2574cb 70.94%,#2c53b2 74.57%,#3040a3 79.36%,#32369c 87.90%,#33349a 100.00%)"></div><div style="top:384.6px;height:3.3px;background:linear-gradient(90deg,#33359a 0.00%,#32369c 11.23%,#3040a3 20.27%,#2c53b2 25.20%,#2574cb 28.90%,#1e94e4 31.15%,#23a6a3 32.83%,#28b862 34.19%,#5eca70 35.47%,#94dc7e 36.60%,#c9ed8b 37.63%,#ffff99 38.59%,#ded487 39.42%,#c0ae77 40.14%,#a18766 40.85%,#805c54 41.64%,#a0857f 42.75%,#c0aeaa 43.93%,#dfd6d4 45.23%,#ffffff 46.85%,#ffffff 50.07%,#ffffff 53.29%,#dfd6d4 54.92%,#c0aeaa 56.22%,#a0857f 57.39%,#805c54 58.51%,#a18766 59.29%,#c0ae77 60.00%,#ded487 60.73%,#ffff99 61.56%,#c9ed8b 62.52%,#94dc7e 63.55%,#5eca70 64.68%,#28b862 65.96%,#23a6a3 67.32%,#1e94e4 68.99%,#2574cb 71.24%,#2c53b2 74.94%,#3040a3 79.88%,#32369c 88.92%,#33359a 100.00%)"></div><div style="top:387.6px;height:3.3px;background:linear-gradient(90deg,#33359a 0.00%,#32369c 10.09%,#3040a3 19.73%,#2c53b2 24.81%,#2574cb 28.60%,#1e94e4 30.89%,#23a6a3 32.59%,#28b862 33.98%,#5eca70 35.28%,#94dc7e 36.43%,#c9ed8b 37.47%,#ffff99 38.44%,#ded487 39.28%,#c0ae77 40.02%,#a18766 40.74%,#805c54 41.53%,#a0857f 42.66%,#c0aeaa 43.85%,#dfd6d4 45.17%,#ffffff 46.81%,#ffffff 50.07%,#ffffff 53.33%,#dfd6d4 54.98%,#c0aeaa 56.29%,#a0857f 57.48%,#805c54 58.61%,#a18766 59.41%,#c0ae77 60.13%,#ded487 60.86%,#ffff99 61.70%,#c9ed8b 62.68%,#94dc7e 63.72%,#5eca70 64.87%,#28b862 66.17%,#23a6a3 67.55%,#1e94e4 69.25%,#2574cb 71.55%,#2c53b2 75.33%,#3040a3 80.41%,#32369c 90.05%,#33359a 100.00%)"></div><div style="top:390.6px;height:3.3px;background:linear-gradient(90deg,#33359b 0.00%,#32369c 8.79%,#3040a3 19.18%,#2c53b2 24.42%,#2574cb 28.29%,#1e94e4 30.62%,#23a6a3 32.36%,#28b862 33.76%,#5eca70 35.08%,#94dc7e 36.25%,#c9ed8b 37.31%,#ffff99 38.29%,#ded487 39.15%,#c0ae77 39.89%,#a18766 40.62%,#805c54 41.43%,#a0857f 42.57%,#c0aeaa 43.77%,#dfd6d4 45.11%,#ffffff 46.77%,#ffffff 50.07%,#ffffff 53.37%,#dfd6d4 55.04%,#c0aeaa 56.37%,#a0857f 57.57%,#805c54 58.72%,#a18766 59.52%,#c0ae77 60.26%,#ded487 61.00%,#ffff99 61.85%,#c9ed8b 62.84%,#94dc7e 63.90%,#5eca70 65.06%,#28b862 66.38%,#23a6a3 67.79%,#1e94e4 69.52%,#2574cb 71.86%,#2c53b2 75.73%,#3040a3 80.97%,#32369c 91.35%,#33359b 100.00%)"></div><div style="top:393.6px;height:3.3px;background:linear-gradient(90deg,#32369b 0.00%,#32369c 7.23%,#3040a3 18.60%,#2c53b2 24.01%,#2574cb 27.97%,#1e94e4 30.35%,#23a6a3 32.12%,#28b862 33.55%,#5eca70 34.89%,#94dc7e 36.07%,#c9ed8b 37.14%,#ffff99 38.14%,#ded487 39.01%,#c0ae77 39.76%,#a18766 40.50%,#805c54 41.32%,#a0857f 42.48%,#c0aeaa 43.70%,#dfd6d4 45.05%,#ffffff 46.73%,#ffffff 50.07%,#ffffff 53.41%,#dfd6d4 55.10%,#c0aeaa 56.45%,#a0857f 57.67%,#805c54 58.82%,#a18766 59.64%,#c0ae77 60.38%,#ded487 61.14%,#ffff99 62.00%,#c9ed8b 63.00%,#94dc7e 64.08%,#5eca70 65.26%,#28b862 66.60%,#23a6a3 68.03%,#1e94e4 69.79%,#2574cb 72.17%,#2c53b2 76.13%,#3040a3 81.54%,#32369c 92.91%,#32369b 100.00%)"></div><div style="top:396.6px;height:3.3px;background:linear-gradient(90deg,#32369b 0.00%,#32369c 5.16%,#3040a3 18.00%,#2c53b2 23.60%,#2574cb 27.65%,#1e94e4 30.08%,#23a6a3 31.87%,#28b862 33.33%,#5eca70 34.69%,#94dc7e 35.89%,#c9ed8b 36.98%,#ffff99 37.99%,#ded487 38.87%,#c0ae77 39.63%,#a18766 40.38%,#805c54 41.21%,#a0857f 42.39%,#c0aeaa 43.62%,#dfd6d4 44.99%,#ffffff 46.69%,#ffffff 50.07%,#ffffff 53.45%,#dfd6d4 55.16%,#c0aeaa 56.53%,#a0857f 57.76%,#805c54 58.93%,#a18766 59.76%,#c0ae77 60.51%,#ded487 61.28%,#ffff99 62.15%,#c9ed8b 63.17%,#94dc7e 64.26%,#5eca70 65.46%,#28b862 66.82%,#23a6a3 68.27%,#1e94e4 70.07%,#2574cb 72.50%,#2c53b2 76.55%,#3040a3 82.14%,#32369c 94.98%,#32369b 100.00%)"></div><div style="top:399.6px;height:3.3px;background:linear-gradient(90deg,#32369c 0.00%,#3040a3 17.38%,#2c53b2 23.17%,#2574cb 27.32%,#1e94e4 29.80%,#23a6a3 31.62%,#28b862 33.10%,#5eca70 34.49%,#94dc7e 35.70%,#c9ed8b 36.81%,#ffff99 37.84%,#ded487 38.73%,#c0ae77 39.50%,#a18766 40.26%,#805c54 41.10%,#a0857f 42.29%,#c0aeaa 43.54%,#dfd6d4 44.93%,#ffffff 46.65%,#ffffff 50.07%,#ffffff 53.49%,#dfd6d4 55.22%,#c0aeaa 56.60%,#a0857f 57.85%,#805c54 59.04%,#a18766 59.88%,#c0ae77 60.64%,#ded487 61.42%,#ffff99 62.31%,#c9ed8b 63.34%,#94dc7e 64.44%,#5eca70 65.66%,#28b862 67.04%,#23a6a3 68.52%,#1e94e4 70.35%,#2574cb 72.83%,#2c53b2 76.98%,#3040a3 82.77%,#32369c 100.00%)"></div><div style="top:402.6px;height:3.3px;background:linear-gradient(90deg,#32379c 0.00%,#3040a3 16.72%,#2c53b2 22.73%,#2574cb 26.98%,#1e94e4 29.51%,#23a6a3 31.37%,#28b862 32.87%,#5eca70 34.28%,#94dc7e 35.52%,#c9ed8b 36.64%,#ffff99 37.68%,#ded487 38.58%,#c0ae77 39.37%,#a18766 40.14%,#805c54 40.99%,#a0857f 42.20%,#c0aeaa 43.46%,#dfd6d4 44.86%,#ffffff 46.61%,#ffffff 50.07%,#ffffff 53.54%,#dfd6d4 55.28%,#c0aeaa 56.69%,#a0857f 57.95%,#805c54 59.15%,#a18766 60.01%,#c0ae77 60.78%,#ded487 61.56%,#ffff99 62.46%,#c9ed8b 63.51%,#94dc7e 64.63%,#5eca70 65.87%,#28b862 67.27%,#23a6a3 68.78%,#1e94e4 70.64%,#2574cb 73.16%,#2c53b2 77.42%,#3040a3 83.42%,#32379c 100.00%)"></div><div style="top:405.6px;height:3.3px;background:linear-gradient(90deg,#32379c 0.00%,#3040a3 16.03%,#2c53b2 22.28%,#2574cb 26.64%,#1e94e4 29.22%,#23a6a3 31.11%,#28b862 32.64%,#5eca70 34.07%,#94dc7e 35.33%,#c9ed8b 36.47%,#ffff99 37.52%,#ded487 38.44%,#c0ae77 39.23%,#a18766 40.02%,#805c54 40.88%,#a0857f 42.10%,#c0aeaa 43.38%,#dfd6d4 44.80%,#ffffff 46.57%,#ffffff 50.07%,#ffffff 53.58%,#dfd6d4 55.35%,#c0aeaa 56.77%,#a0857f 58.05%,#805c54 59.27%,#a18766 60.13%,#c0ae77 60.91%,#ded487 61.71%,#ffff99 62.62%,#c9ed8b 63.68%,#94dc7e 64.82%,#5eca70 66.07%,#28b862 67.50%,#23a6a3 69.03%,#1e94e4 70.93%,#2574cb 73.51%,#2c53b2 77.87%,#3040a3 84.11%,#32379c 100.00%)"></div><div style="top:408.6px;height:3.3px;background:linear-gradient(90deg,#32389d 0.00%,#3040a3 15.31%,#2c53b2 21.81%,#2574cb 26.29%,#1e94e4 28.92%,#23a6a3 30.85%,#28b862 32.41%,#5eca70 33.86%,#94dc7e 35.13%,#c9ed8b 36.29%,#ffff99 37.36%,#ded487 38.29%,#c0ae77 39.10%,#a18766 39.89%,#805c54 40.76%,#a0857f 42.00%,#c0aeaa 43.30%,#dfd6d4 44.74%,#ffffff 46.52%,#ffffff 50.07%,#ffffff 53.62%,#dfd6d4 55.41%,#c0aeaa 56.85%,#a0857f 58.15%,#805c54 59.38%,#a18766 60.26%,#c0ae77 61.05%,#ded487 61.85%,#ffff99 62.78%,#c9ed8b 63.86%,#94dc7e 65.01%,#5eca70 66.29%,#28b862 67.74%,#23a6a3 69.30%,#1e94e4 71.23%,#2574cb 73.86%,#2c53b2 78.34%,#3040a3 84.84%,#32389d 100.00%)"></div><div style="top:411.6px;height:3.3px;background:linear-gradient(90deg,#32389d 0.00%,#3040a3 14.54%,#2c53b2 21.33%,#2574cb 25.93%,#1e94e4 28.62%,#23a6a3 30.58%,#28b862 32.17%,#5eca70 33.64%,#94dc7e 34.94%,#c9ed8b 36.11%,#ffff99 37.20%,#ded487 38.14%,#c0ae77 38.96%,#a18766 39.76%,#805c54 40.65%,#a0857f 41.90%,#c0aeaa 43.21%,#dfd6d4 44.67%,#ffffff 46.48%,#ffffff 50.07%,#ffffff 53.66%,#dfd6d4 55.48%,#c0aeaa 56.93%,#a0857f 58.25%,#805c54 59.50%,#a18766 60.38%,#c0ae77 61.19%,#ded487 62.00%,#ffff99 62.94%,#c9ed8b 64.03%,#94dc7e 65.21%,#5eca70 66.50%,#28b862 67.98%,#23a6a3 69.56%,#1e94e4 71.53%,#2574cb 74.22%,#2c53b2 78.82%,#3040a3 85.61%,#32389d 100.00%)"></div><div style="top:414.6px;height:3.3px;background:linear-gradient(90deg,#32399e 0.00%,#3040a3 13.71%,#2c53b2 20.83%,#2574cb 25.56%,#1e94e4 28.31%,#23a6a3 30.31%,#28b862 31.92%,#5eca70 33.42%,#94dc7e 34.74%,#c9ed8b 35.93%,#ffff99 37.04%,#ded487 37.99%,#c0ae77 38.82%,#a18766 39.63%,#805c54 40.53%,#a0857f 41.80%,#c0aeaa 43.13%,#dfd6d4 44.60%,#ffffff 46.44%,#ffffff 50.07%,#ffffff 53.71%,#dfd6d4 55.54%,#c0aeaa 57.02%,#a0857f 58.35%,#805c54 59.62%,#a18766 60.51%,#c0ae77 61.33%,#ded487 62.16%,#ffff99 63.11%,#c9ed8b 64.21%,#94dc7e 65.41%,#5eca70 66.72%,#28b862 68.22%,#23a6a3 69.84%,#1e94e4 71.84%,#2574cb 74.59%,#2c53b2 79.31%,#3040a3 86.43%,#32399e 100.00%)"></div><div style="top:417.6px;height:3.3px;background:linear-gradient(90deg,#323a9e 0.00%,#3040a3 12.83%,#2c53b2 20.32%,#2574cb 25.18%,#1e94e4 27.99%,#23a6a3 30.03%,#28b862 31.67%,#5eca70 33.20%,#94dc7e 34.54%,#c9ed8b 35.75%,#ffff99 36.87%,#ded487 37.83%,#c0ae77 38.68%,#a18766 39.50%,#805c54 40.41%,#a0857f 41.70%,#c0aeaa 43.04%,#dfd6d4 44.54%,#ffffff 46.39%,#ffffff 50.07%,#ffffff 53.75%,#dfd6d4 55.61%,#c0aeaa 57.10%,#a0857f 58.45%,#805c54 59.74%,#a18766 60.64%,#c0ae77 61.47%,#ded487 62.31%,#ffff99 63.28%,#c9ed8b 64.40%,#94dc7e 65.61%,#5eca70 66.95%,#28b862 68.47%,#23a6a3 70.11%,#1e94e4 72.16%,#2574cb 74.97%,#2c53b2 79.83%,#3040a3 87.32%,#323a9e 100.00%)"></div><div style="top:420.6px;height:3.3px;background:linear-gradient(90deg,#313a9f 0.00%,#3040a3 11.87%,#2c53b2 19.79%,#2574cb 24.79%,#1e94e4 27.67%,#23a6a3 29.75%,#28b862 31.42%,#5eca70 32.97%,#94dc7e 34.33%,#c9ed8b 35.56%,#ffff99 36.70%,#ded487 37.68%,#c0ae77 38.53%,#a18766 39.37%,#805c54 40.29%,#a0857f 41.59%,#c0aeaa 42.96%,#dfd6d4 44.47%,#ffffff 46.35%,#ffffff 50.07%,#ffffff 53.80%,#dfd6d4 55.68%,#c0aeaa 57.19%,#a0857f 58.55%,#805c54 59.86%,#a18766 60.78%,#c0ae77 61.61%,#ded487 62.47%,#ffff99 63.45%,#c9ed8b 64.58%,#94dc7e 65.81%,#5eca70 67.17%,#28b862 68.72%,#23a6a3 70.39%,#1e94e4 72.48%,#2574cb 75.35%,#2c53b2 80.36%,#3040a3 88.28%,#313a9f 100.00%)"></div><div style="top:423.6px;height:3.3px;background:linear-gradient(90deg,#313b9f 0.00%,#3040a3 10.81%,#2c53b2 19.24%,#2574cb 24.40%,#1e94e4 27.34%,#23a6a3 29.46%,#28b862 31.16%,#5eca70 32.74%,#94dc7e 34.12%,#c9ed8b 35.37%,#ffff99 36.53%,#ded487 37.52%,#c0ae77 38.39%,#a18766 39.23%,#805c54 40.17%,#a0857f 41.49%,#c0aeaa 42.87%,#dfd6d4 44.40%,#ffffff 46.30%,#ffffff 50.07%,#ffffff 53.84%,#dfd6d4 55.74%,#c0aeaa 57.28%,#a0857f 58.66%,#805c54 59.98%,#a18766 60.91%,#c0ae77 61.76%,#ded487 62.62%,#ffff99 63.62%,#c9ed8b 64.77%,#94dc7e 66.02%,#5eca70 67.40%,#28b862 68.98%,#23a6a3 70.68%,#1e94e4 72.81%,#2574cb 75.75%,#2c53b2 80.91%,#3040a3 89.34%,#313b9f 100.00%)"></div><div style="top:426.6px;height:3.3px;background:linear-gradient(90deg,#313ca0 0.00%,#3040a3 9.62%,#2c53b2 18.66%,#2574cb 23.99%,#1e94e4 27.00%,#23a6a3 29.17%,#28b862 30.90%,#5eca70 32.51%,#94dc7e 33.91%,#c9ed8b 35.18%,#ffff99 36.35%,#ded487 37.36%,#c0ae77 38.24%,#a18766 39.10%,#805c54 40.04%,#a0857f 41.38%,#c0aeaa 42.78%,#dfd6d4 44.33%,#ffffff 46.26%,#ffffff 50.07%,#ffffff 53.89%,#dfd6d4 55.81%,#c0aeaa 57.36%,#a0857f 58.76%,#805c54 60.10%,#a18766 61.05%,#c0ae77 61.91%,#ded487 62.78%,#ffff99 63.79%,#c9ed8b 64.97%,#94dc7e 66.23%,#5eca70 67.64%,#28b862 69.24%,#23a6a3 70.98%,#1e94e4 73.14%,#2574cb 76.15%,#2c53b2 81.48%,#3040a3 90.53%,#313ca0 100.00%)"></div><div style="top:429.6px;height:3.3px;background:linear-gradient(90deg,#313da1 0.00%,#3040a3 8.23%,#2c53b2 18.07%,#2574cb 23.57%,#1e94e4 26.66%,#23a6a3 28.87%,#28b862 30.64%,#5eca70 32.27%,#94dc7e 33.70%,#c9ed8b 34.98%,#ffff99 36.17%,#ded487 37.20%,#c0ae77 38.09%,#a18766 38.96%,#805c54 39.92%,#a0857f 41.27%,#c0aeaa 42.69%,#dfd6d4 44.26%,#ffffff 46.21%,#ffffff 50.07%,#ffffff 53.93%,#dfd6d4 55.88%,#c0aeaa 57.45%,#a0857f 58.87%,#805c54 60.23%,#a18766 61.19%,#c0ae77 62.06%,#ded487 62.95%,#ffff99 63.97%,#c9ed8b 65.16%,#94dc7e 66.45%,#5eca70 67.87%,#28b862 69.51%,#23a6a3 71.27%,#1e94e4 73.49%,#2574cb 76.57%,#2c53b2 82.08%,#3040a3 91.91%,#313da1 100.00%)"></div><div style="top:432.6px;height:3.3px;background:linear-gradient(90deg,#313ea2 0.00%,#3040a3 6.53%,#2c53b2 17.44%,#2574cb 23.14%,#1e94e4 26.31%,#23a6a3 28.57%,#28b862 30.37%,#5eca70 32.03%,#94dc7e 33.48%,#c9ed8b 34.79%,#ffff99 35.99%,#ded487 37.03%,#c0ae77 37.93%,#a18766 38.82%,#805c54 39.79%,#a0857f 41.16%,#c0aeaa 42.60%,#dfd6d4 44.19%,#ffffff 46.16%,#ffffff 50.07%,#ffffff 53.98%,#dfd6d4 55.95%,#c0aeaa 57.54%,#a0857f 58.98%,#805c54 60.36%,#a18766 61.33%,#c0ae77 62.21%,#ded487 63.11%,#ffff99 64.15%,#c9ed8b 65.36%,#94dc7e 66.67%,#5eca70 68.12%,#28b862 69.78%,#23a6a3 71.58%,#1e94e4 73.84%,#2574cb 77.00%,#2c53b2 82.70%,#3040a3 93.62%,#313ea2 100.00%)"></div><div style="top:435.6px;height:3.3px;background:linear-gradient(90deg,#303fa3 0.00%,#3040a3 4.06%,#2c53b2 16.79%,#2574cb 22.70%,#1e94e4 25.95%,#23a6a3 28.26%,#28b862 30.09%,#5eca70 31.78%,#94dc7e 33.26%,#c9ed8b 34.58%,#ffff99 35.81%,#ded487 36.86%,#c0ae77 37.78%,#a18766 38.68%,#805c54 39.66%,#a0857f 41.05%,#c0aeaa 42.51%,#dfd6d4 44.12%,#ffffff 46.12%,#ffffff 50.07%,#ffffff 54.03%,#dfd6d4 56.03%,#c0aeaa 57.64%,#a0857f 59.09%,#805c54 60.48%,#a18766 61.47%,#c0ae77 62.37%,#ded487 63.28%,#ffff99 64.33%,#c9ed8b 65.56%,#94dc7e 66.89%,#5eca70 68.36%,#28b862 70.05%,#23a6a3 71.89%,#1e94e4 74.20%,#2574cb 77.44%,#2c53b2 83.36%,#3040a3 96.09%,#303fa3 100.00%)"></div><div style="top:438.6px;height:3.3px;background:linear-gradient(90deg,#3041a3 0.00%,#2c53b2 16.10%,#2574cb 22.25%,#1e94e4 25.58%,#23a6a3 27.94%,#28b862 29.81%,#5eca70 31.53%,#94dc7e 33.03%,#c9ed8b 34.38%,#ffff99 35.63%,#ded487 36.69%,#c0ae77 37.62%,#a18766 38.53%,#805c54 39.53%,#a0857f 40.94%,#c0aeaa 42.41%,#dfd6d4 44.05%,#ffffff 46.07%,#ffffff 50.07%,#ffffff 54.08%,#dfd6d4 56.10%,#c0aeaa 57.73%,#a0857f 59.20%,#805c54 60.62%,#a18766 61.61%,#c0ae77 62.52%,#ded487 63.45%,#ffff99 64.52%,#c9ed8b 65.77%,#94dc7e 67.11%,#5eca70 68.61%,#28b862 70.34%,#23a6a3 72.21%,#1e94e4 74.57%,#2574cb 77.89%,#2c53b2 84.04%,#3041a3 100.00%)"></div><div style="top:441.6px;height:3.3px;background:linear-gradient(90deg,#3042a4 0.00%,#2c53b2 15.38%,#2574cb 21.78%,#1e94e4 25.20%,#23a6a3 27.61%,#28b862 29.52%,#5eca70 31.28%,#94dc7e 32.80%,#c9ed8b 34.17%,#ffff99 35.44%,#ded487 36.52%,#c0ae77 37.46%,#a18766 38.38%,#805c54 39.40%,#a0857f 40.83%,#c0aeaa 42.32%,#dfd6d4 43.97%,#ffffff 46.02%,#ffffff 50.07%,#ffffff 54.13%,#dfd6d4 56.17%,#c0aeaa 57.82%,#a0857f 59.32%,#805c54 60.75%,#a18766 61.76%,#c0ae77 62.68%,#ded487 63.62%,#ffff99 64.71%,#c9ed8b 65.97%,#94dc7e 67.34%,#5eca70 68.87%,#28b862 70.62%,#23a6a3 72.53%,#1e94e4 74.94%,#2574cb 78.36%,#2c53b2 84.76%,#3042a4 100.00%)"></div><div style="top:444.6px;height:3.3px;background:linear-gradient(90deg,#2f43a6 0.00%,#2c53b2 14.62%,#2574cb 21.30%,#1e94e4 24.82%,#23a6a3 27.28%,#28b862 29.23%,#5eca70 31.02%,#94dc7e 32.57%,#c9ed8b 33.96%,#ffff99 35.25%,#ded487 36.35%,#c0ae77 37.30%,#a18766 38.24%,#805c54 39.26%,#a0857f 40.71%,#c0aeaa 42.22%,#dfd6d4 43.90%,#ffffff 45.97%,#ffffff 50.07%,#ffffff 54.17%,#dfd6d4 56.25%,#c0aeaa 57.92%,#a0857f 59.43%,#805c54 60.88%,#a18766 61.91%,#c0ae77 62.84%,#ded487 63.80%,#ffff99 64.90%,#c9ed8b 66.18%,#94dc7e 67.58%,#5eca70 69.13%,#28b862 70.91%,#23a6a3 72.86%,#1e94e4 75.33%,#2574cb 78.84%,#2c53b2 85.53%,#2f43a6 100.00%)"></div><div style="top:447.6px;height:3.3px;background:linear-gradient(90deg,#2f45a7 0.00%,#2c53b2 13.80%,#2574cb 20.80%,#1e94e4 24.42%,#23a6a3 26.95%,#28b862 28.93%,#5eca70 30.75%,#94dc7e 32.33%,#c9ed8b 33.75%,#ffff99 35.05%,#ded487 36.17%,#c0ae77 37.14%,#a18766 38.09%,#805c54 39.13%,#a0857f 40.59%,#c0aeaa 42.13%,#dfd6d4 43.82%,#ffffff 45.92%,#ffffff 50.07%,#ffffff 54.22%,#dfd6d4 56.32%,#c0aeaa 58.02%,#a0857f 59.55%,#805c54 61.02%,#a18766 62.06%,#c0ae77 63.01%,#ded487 63.98%,#ffff99 65.09%,#c9ed8b 66.40%,#94dc7e 67.81%,#5eca70 69.39%,#28b862 71.21%,#23a6a3 73.20%,#1e94e4 75.73%,#2574cb 79.34%,#2c53b2 86.35%,#2f45a7 100.00%)"></div><div style="top:450.6px;height:3.3px;background:linear-gradient(90deg,#2f46a8 0.00%,#2c53b2 12.92%,#2574cb 20.29%,#1e94e4 24.01%,#23a6a3 26.60%,#28b862 28.63%,#5eca70 30.49%,#94dc7e 32.09%,#c9ed8b 33.53%,#ffff99 34.85%,#ded487 35.99%,#c0ae77 36.97%,#a18766 37.93%,#805c54 38.99%,#a0857f 40.48%,#c0aeaa 42.03%,#dfd6d4 43.74%,#ffffff 45.87%,#ffffff 50.07%,#ffffff 54.27%,#dfd6d4 56.40%,#c0aeaa 58.12%,#a0857f 59.67%,#805c54 61.16%,#a18766 62.21%,#c0ae77 63.17%,#ded487 64.16%,#ffff99 65.29%,#c9ed8b 66.62%,#94dc7e 68.05%,#5eca70 69.66%,#28b862 71.51%,#23a6a3 73.54%,#1e94e4 76.13%,#2574cb 79.86%,#2c53b2 87.22%,#2f46a8 100.00%)"></div><div style="top:453.6px;height:3.3px;background:linear-gradient(90deg,#2e48a9 0.00%,#2c53b2 11.97%,#2574cb 19.76%,#1e94e4 23.60%,#23a6a3 26.25%,#28b862 28.32%,#5eca70 30.21%,#94dc7e 31.85%,#c9ed8b 33.31%,#ffff99 34.65%,#ded487 35.81%,#c0ae77 36.80%,#a18766 37.78%,#805c54 38.85%,#a0857f 40.36%,#c0aeaa 41.93%,#dfd6d4 43.67%,#ffffff 45.82%,#ffffff 50.07%,#ffffff 54.33%,#dfd6d4 56.48%,#c0aeaa 58.22%,#a0857f 59.79%,#805c54 61.30%,#a18766 62.37%,#c0ae77 63.34%,#ded487 64.34%,#ffff99 65.49%,#c9ed8b 66.84%,#94dc7e 68.30%,#5eca70 69.93%,#28b862 71.82%,#23a6a3 73.90%,#1e94e4 76.55%,#2574cb 80.39%,#2c53b2 88.18%,#2e48a9 100.00%)"></div><div style="top:456.6px;height:3.3px;background:linear-gradient(90deg,#2e4aab 0.00%,#2c53b2 10.92%,#2574cb 19.20%,#1e94e4 23.17%,#23a6a3 25.89%,#28b862 28.00%,#5eca70 29.93%,#94dc7e 31.60%,#c9ed8b 33.08%,#ffff99 34.45%,#ded487 35.62%,#c0ae77 36.63%,#a18766 37.62%,#805c54 38.71%,#a0857f 40.24%,#c0aeaa 41.83%,#dfd6d4 43.59%,#ffffff 45.77%,#ffffff 50.07%,#ffffff 54.38%,#dfd6d4 56.56%,#c0aeaa 58.32%,#a0857f 59.91%,#805c54 61.44%,#a18766 62.52%,#c0ae77 63.51%,#ded487 64.52%,#ffff99 65.69%,#c9ed8b 67.06%,#94dc7e 68.55%,#5eca70 70.21%,#28b862 72.14%,#23a6a3 74.26%,#1e94e4 76.98%,#2574cb 80.94%,#2c53b2 89.23%,#2e4aab 100.00%)"></div><div style="top:459.6px;height:3.3px;background:linear-gradient(90deg,#2e4cac 0.00%,#2c53b2 9.74%,#2574cb 18.63%,#1e94e4 22.73%,#23a6a3 25.52%,#28b862 27.68%,#5eca70 29.65%,#94dc7e 31.34%,#c9ed8b 32.86%,#ffff99 34.24%,#ded487 35.43%,#c0ae77 36.46%,#a18766 37.46%,#805c54 38.56%,#a0857f 40.11%,#c0aeaa 41.73%,#dfd6d4 43.51%,#ffffff 45.72%,#ffffff 50.07%,#ffffff 54.43%,#dfd6d4 56.64%,#c0aeaa 58.42%,#a0857f 60.03%,#805c54 61.58%,#a18766 62.68%,#c0ae77 63.68%,#ded487 64.71%,#ffff99 65.90%,#c9ed8b 67.29%,#94dc7e 68.80%,#5eca70 70.50%,#28b862 72.46%,#23a6a3 74.63%,#1e94e4 77.42%,#2574cb 81.52%,#2c53b2 90.40%,#2e4cac 100.00%)"></div><div style="top:462.6px;height:3.3px;background:linear-gradient(90deg,#2d4eae 0.00%,#2c53b2 8.38%,#2574cb 18.03%,#1e94e4 22.28%,#23a6a3 25.14%,#28b862 27.35%,#5eca70 29.36%,#94dc7e 31.09%,#c9ed8b 32.62%,#ffff99 34.04%,#ded487 35.24%,#c0ae77 36.28%,#a18766 37.30%,#805c54 38.42%,#a0857f 39.99%,#c0aeaa 41.62%,#dfd6d4 43.43%,#ffffff 45.66%,#ffffff 50.07%,#ffffff 54.48%,#dfd6d4 56.72%,#c0aeaa 58.52%,#a0857f 60.16%,#805c54 61.73%,#a18766 62.84%,#c0ae77 63.86%,#ded487 64.90%,#ffff99 66.11%,#c9ed8b 67.52%,#94dc7e 69.06%,#5eca70 70.79%,#28b862 72.79%,#23a6a3 75.01%,#1e94e4 77.87%,#2574cb 82.11%,#2c53b2 91.76%,#2d4eae 100.00%)"></div><div style="top:465.6px;height:3.3px;background:linear-gradient(90deg,#2d50af 0.00%,#2c53b2 6.72%,#2574cb 17.41%,#1e94e4 21.81%,#23a6a3 24.75%,#28b862 27.02%,#5eca70 29.07%,#94dc7e 30.82%,#c9ed8b 32.39%,#ffff99 33.82%,#ded487 35.05%,#c0ae77 36.11%,#a18766 37.14%,#805c54 38.27%,#a0857f 39.86%,#c0aeaa 41.52%,#dfd6d4 43.35%,#ffffff 45.61%,#ffffff 50.07%,#ffffff 54.54%,#dfd6d4 56.80%,#c0aeaa 58.63%,#a0857f 60.28%,#805c54 61.88%,#a18766 63.01%,#c0ae77 64.04%,#ded487 65.10%,#ffff99 66.32%,#c9ed8b 67.76%,#94dc7e 69.32%,#5eca70 71.08%,#28b862 73.13%,#23a6a3 75.39%,#1e94e4 78.34%,#2574cb 82.74%,#2c53b2 93.43%,#2d50af 100.00%)"></div></div>
<svg width="1025" height="1298" viewBox="0 0 1025 1298" style="position:absolute;left:0;top:0"><rect x="121.3" y="49.4" width="553.1" height="420.7" fill="none" stroke="#111" stroke-width="2.6"/>
<line x1="122.4" x2="673.3" y1="51" y2="51" stroke="#fff" stroke-width="1.2"/>
<line x1="122.4" x2="673.3" y1="468.6" y2="468.6" stroke="#fff" stroke-width="0.8" opacity="0.8"/>
<line x1="115" x2="121" y1="468.0" y2="468.0" stroke="#111" stroke-width="2.5"/>
<line x1="115" x2="121" y1="456.7" y2="456.7" stroke="#111" stroke-width="2.5"/>
<line x1="115" x2="121" y1="447.1" y2="447.1" stroke="#111" stroke-width="2.5"/>
<line x1="115" x2="121" y1="438.7" y2="438.7" stroke="#111" stroke-width="2.5"/>
<line x1="115" x2="121" y1="431.4" y2="431.4" stroke="#111" stroke-width="2.5"/>
<line x1="113" x2="121" y1="424.8" y2="424.8" stroke="#111" stroke-width="2.7"/>
<line x1="115" x2="121" y1="381.6" y2="381.6" stroke="#111" stroke-width="2.5"/>
<line x1="115" x2="121" y1="356.3" y2="356.3" stroke="#111" stroke-width="2.5"/>
<line x1="115" x2="121" y1="338.3" y2="338.3" stroke="#111" stroke-width="2.5"/>
<line x1="115" x2="121" y1="324.4" y2="324.4" stroke="#111" stroke-width="2.5"/>
<line x1="115" x2="121" y1="313.0" y2="313.0" stroke="#111" stroke-width="2.5"/>
<line x1="115" x2="121" y1="303.4" y2="303.4" stroke="#111" stroke-width="2.5"/>
<line x1="115" x2="121" y1="295.1" y2="295.1" stroke="#111" stroke-width="2.5"/>
<line x1="115" x2="121" y1="287.7" y2="287.7" stroke="#111" stroke-width="2.5"/>
<line x1="113" x2="121" y1="281.1" y2="281.1" stroke="#111" stroke-width="2.7"/>
<line x1="115" x2="121" y1="237.9" y2="237.9" stroke="#111" stroke-width="2.5"/>
<line x1="115" x2="121" y1="212.6" y2="212.6" stroke="#111" stroke-width="2.5"/>
<line x1="115" x2="121" y1="194.7" y2="194.7" stroke="#111" stroke-width="2.5"/>
<line x1="115" x2="121" y1="180.7" y2="180.7" stroke="#111" stroke-width="2.5"/>
<line x1="115" x2="121" y1="169.4" y2="169.4" stroke="#111" stroke-width="2.5"/>
<line x1="115" x2="121" y1="159.8" y2="159.8" stroke="#111" stroke-width="2.5"/>
<line x1="115" x2="121" y1="151.4" y2="151.4" stroke="#111" stroke-width="2.5"/>
<line x1="115" x2="121" y1="144.1" y2="144.1" stroke="#111" stroke-width="2.5"/>
<line x1="113" x2="121" y1="137.5" y2="137.5" stroke="#111" stroke-width="2.7"/>
<line x1="115" x2="121" y1="94.3" y2="94.3" stroke="#111" stroke-width="2.5"/>
<line x1="115" x2="121" y1="69.0" y2="69.0" stroke="#111" stroke-width="2.5"/>
<line x1="115" x2="121" y1="51.0" y2="51.0" stroke="#111" stroke-width="2.5"/>
<line x1="155.3" x2="155.3" y1="470" y2="481.6" stroke="#111" stroke-width="2.5"/>
<line x1="216.1" x2="216.1" y1="470" y2="481.6" stroke="#111" stroke-width="2.5"/>
<line x1="276.8" x2="276.8" y1="470" y2="481.6" stroke="#111" stroke-width="2.5"/>
<line x1="337.6" x2="337.6" y1="470" y2="481.6" stroke="#111" stroke-width="2.5"/>
<line x1="398.3" x2="398.3" y1="470" y2="481.6" stroke="#111" stroke-width="2.5"/>
<line x1="459.1" x2="459.1" y1="470" y2="481.6" stroke="#111" stroke-width="2.5"/>
<line x1="519.8" x2="519.8" y1="470" y2="481.6" stroke="#111" stroke-width="2.5"/>
<line x1="580.5" x2="580.5" y1="470" y2="481.6" stroke="#111" stroke-width="2.5"/>
<line x1="641.3" x2="641.3" y1="470" y2="481.6" stroke="#111" stroke-width="2.5"/>
<line x1="122.6" x2="673" y1="137.5" y2="137.5" stroke="#fff" stroke-width="2.5" stroke-dasharray="9.8 6.15" stroke-dashoffset="2.8"/>
<line x1="122.6" x2="673" y1="281.2" y2="281.2" stroke="#fff" stroke-width="2.5" stroke-dasharray="9.8 6.15" stroke-dashoffset="2.8"/>
<line x1="122.6" x2="673" y1="424.7" y2="424.7" stroke="#fff" stroke-width="2.5" stroke-dasharray="9.8 6.15" stroke-dashoffset="2.8"/>
<rect x="132.2" y="59.8" width="126.8" height="50.4" fill="#fff" stroke="#111" stroke-width="1.6"/>
<text x="141.0" y="96.4" font-size="32.0" font-family='"Liberation Sans", sans-serif' fill="#111" stroke="#111" stroke-width="0.4" textLength="114.0" lengthAdjust="spacingAndGlyphs">d=50 nm</text>
<text x="504" y="126.1" font-size="38" fill="#fff" textLength="144.5" lengthAdjust="spacingAndGlyphs"><tspan font-family='"Liberation Serif", serif'>λ</tspan><tspan font-family='"Liberation Sans", sans-serif'>~35 nm</tspan></text>
<text x="504" y="270.0" font-size="38" fill="#fff" textLength="162.0" lengthAdjust="spacingAndGlyphs"><tspan font-family='"Liberation Serif", serif'>λ</tspan><tspan font-family='"Liberation Sans", sans-serif'>~110 nm</tspan></text>
<text x="504" y="413.4" font-size="38" fill="#fff" textLength="164.5" lengthAdjust="spacingAndGlyphs"><tspan font-family='"Liberation Serif", serif'>λ</tspan><tspan font-family='"Liberation Sans", sans-serif'>~350 nm</tspan></text>
<text x="45.5" y="144.5" font-size="40.5" font-family='"Liberation Sans", sans-serif' fill="#111" stroke="#111" stroke-width="0.4" textLength="40.5" lengthAdjust="spacingAndGlyphs">10</text>
<text x="85.5" y="129.3" font-size="23.5" font-family='"Liberation Sans", sans-serif' fill="#111" stroke="#111" stroke-width="0.4" textLength="32.0" lengthAdjust="spacingAndGlyphs">16</text>
<text x="45.5" y="287.5" font-size="40.5" font-family='"Liberation Sans", sans-serif' fill="#111" stroke="#111" stroke-width="0.4" textLength="40.5" lengthAdjust="spacingAndGlyphs">10</text>
<text x="85.5" y="272.3" font-size="23.5" font-family='"Liberation Sans", sans-serif' fill="#111" stroke="#111" stroke-width="0.4" textLength="32.0" lengthAdjust="spacingAndGlyphs">15</text>
<text x="45.5" y="430.5" font-size="40.5" font-family='"Liberation Sans", sans-serif' fill="#111" stroke="#111" stroke-width="0.4" textLength="40.5" lengthAdjust="spacingAndGlyphs">10</text>
<text x="85.5" y="415.3" font-size="23.5" font-family='"Liberation Sans", sans-serif' fill="#111" stroke="#111" stroke-width="0.4" textLength="32.0" lengthAdjust="spacingAndGlyphs">14</text>
<text transform="translate(33,304) rotate(-90)" font-size="42.5" font-family='"Liberation Sans", sans-serif' fill="#111" stroke="#111" stroke-width="0.4" textLength="50" lengthAdjust="spacingAndGlyphs">|n|</text>
<text transform="translate(33,242.5) rotate(-90)" font-size="42.5" font-family='"Liberation Sans", sans-serif' fill="#111" stroke="#111" stroke-width="0.4" textLength="100" lengthAdjust="spacingAndGlyphs">(m<tspan dy="-14.3" font-size="22">-2</tspan><tspan dy="14.3">)</tspan></text>
<text x="119.5" y="520.6" font-size="44.5" font-family='"Liberation Sans", sans-serif' fill="#111" stroke="#111" stroke-width="0.4" textLength="62.5" lengthAdjust="spacingAndGlyphs">-80</text>
<text x="241.5" y="520.6" font-size="44.5" font-family='"Liberation Sans", sans-serif' fill="#111" stroke="#111" stroke-width="0.4" textLength="62.5" lengthAdjust="spacingAndGlyphs">-40</text>
<text x="385.0" y="520.6" font-size="44.5" font-family='"Liberation Sans", sans-serif' fill="#111" stroke="#111" stroke-width="0.4" textLength="25.5" lengthAdjust="spacingAndGlyphs">0</text>
<text x="490.5" y="520.6" font-size="44.5" font-family='"Liberation Sans", sans-serif' fill="#111" stroke="#111" stroke-width="0.4" textLength="47.0" lengthAdjust="spacingAndGlyphs">40</text>
<text x="613.5" y="520.6" font-size="44.5" font-family='"Liberation Sans", sans-serif' fill="#111" stroke="#111" stroke-width="0.4" textLength="47.0" lengthAdjust="spacingAndGlyphs">80</text>
<text x="359.5" y="562.4" font-size="46" textLength="82" lengthAdjust="spacingAndGlyphs" fill="#111"><tspan font-family='"Liberation Serif", serif'>θ</tspan><tspan font-family='"Liberation Sans", sans-serif'> (°)</tspan></text>
<text x="14.0" y="27.2" font-size="30.5" font-family='"Liberation Sans", sans-serif' fill="#111" stroke="#111" stroke-width="0.4" textLength="40.5" lengthAdjust="spacingAndGlyphs">(a)</text>
<text x="12.0" y="622.2" font-size="32.5" font-family='"Liberation Sans", sans-serif' fill="#111" stroke="#111" stroke-width="0.4" textLength="47.0" lengthAdjust="spacingAndGlyphs">(b)</text>
<defs><linearGradient id="cb" x1="0" y1="1" x2="0" y2="0"><stop offset="0" stop-color="#333399"/><stop offset="0.05" stop-color="#2a5cb8"/><stop offset="0.11" stop-color="#1a9ae0"/><stop offset="0.17" stop-color="#22b870"/><stop offset="0.28" stop-color="#7ed480"/><stop offset="0.40" stop-color="#fbfa98"/><stop offset="0.50" stop-color="#c4b078"/><stop offset="0.59" stop-color="#865f55"/><stop offset="0.80" stop-color="#c7b5b0"/><stop offset="0.95" stop-color="#fbfafa"/><stop offset="1" stop-color="#ffffff"/></linearGradient><linearGradient id="ar2" gradientUnits="userSpaceOnUse" x1="0" y1="283" x2="0" y2="470"><stop offset="0" stop-color="#2fb073"/><stop offset="0.055" stop-color="#35b074"/><stop offset="0.165" stop-color="#82aa6e"/><stop offset="0.22" stop-color="#a5a564"/><stop offset="0.29" stop-color="#bc9e5f"/><stop offset="0.355" stop-color="#d78c5a"/><stop offset="0.42" stop-color="#eb7850"/><stop offset="0.53" stop-color="#f06c49"/><stop offset="0.7" stop-color="#f26442"/><stop offset="1" stop-color="#f2623f"/></linearGradient><linearGradient id="bg" gradientUnits="userSpaceOnUse" x1="325" y1="0" x2="630" y2="0"><stop offset="0" stop-color="#5c67b0"/><stop offset="0.35" stop-color="#9a6698"/><stop offset="0.55" stop-color="#bd6478"/><stop offset="0.8" stop-color="#de5e52"/><stop offset="1" stop-color="#f15a3e"/></linearGradient></defs>
<rect x="684.4" y="107.2" width="13.8" height="362.6" fill="url(#cb)" stroke="#111" stroke-width="2"/>
<line x1="698" x2="703.5" y1="107.2" y2="107.2" stroke="#111" stroke-width="1.8"/>
<line x1="698" x2="703.5" y1="288.4" y2="288.4" stroke="#111" stroke-width="1.8"/>
<line x1="698" x2="703.5" y1="469.8" y2="469.8" stroke="#111" stroke-width="1.8"/>
<text x="697.0" y="64.4" font-size="35.0" font-family='"Liberation Sans", sans-serif' fill="#111" stroke="#111" stroke-width="0.4" textLength="30.0" lengthAdjust="spacingAndGlyphs">T(</text>
<text x="727.5" y="64.4" font-size="35" font-family='"Liberation Serif", serif' fill="#111" textLength="19.5" lengthAdjust="spacingAndGlyphs">θ</text>
<text x="747.5" y="64.4" font-size="35.0" font-family='"Liberation Sans", sans-serif' fill="#111" stroke="#111" stroke-width="0.4" textLength="13.0" lengthAdjust="spacingAndGlyphs">)</text>
<text x="713.2" y="118.4" font-size="42.0" font-family='"Liberation Sans", sans-serif' fill="#111" stroke="#111" stroke-width="0.4" textLength="18.0" lengthAdjust="spacingAndGlyphs">1</text>
<text x="712.0" y="477.4" font-size="44.0" font-family='"Liberation Sans", sans-serif' fill="#111" stroke="#111" stroke-width="0.4" textLength="23.0" lengthAdjust="spacingAndGlyphs">0</text>
<polygon points="784.9,43.8 803.3,88.0 794.7,88.0 794.7,233.2 803.3,233.2 784.9,278.7 766.5,233.2 775.1,233.2 775.1,88.0 766.5,88.0" fill="#2fb073" stroke="#1a1a1a" stroke-width="3.7" stroke-linejoin="miter" stroke-miterlimit="6"/>
<polygon points="784.9,281.9 803.3,328.7 794.7,328.7 794.7,422.1 803.3,422.1 784.9,467.6 766.5,422.1 775.1,422.1 775.1,328.7 766.5,328.7" fill="url(#ar2)" stroke="#1a1a1a" stroke-width="3.7" stroke-linejoin="miter" stroke-miterlimit="6"/>
<text x="858.0" y="125.4" font-size="40.0" font-family='"Liberation Sans", sans-serif' fill="#111" stroke="#111" stroke-width="0.4" textLength="106.8" lengthAdjust="spacingAndGlyphs">typcial</text>
<text x="797.2" y="175.6" font-size="40.0" font-family='"Liberation Sans", sans-serif' fill="#111" stroke="#111" stroke-width="0.4" textLength="231.8" lengthAdjust="spacingAndGlyphs">measurement</text>
<text x="862.8" y="225.8" font-size="40.0" font-family='"Liberation Sans", sans-serif' fill="#111" stroke="#111" stroke-width="0.4" textLength="96.5" lengthAdjust="spacingAndGlyphs">range</text>
<text x="845.8" y="337.6" font-size="40.0" font-family='"Liberation Sans", sans-serif' fill="#111" stroke="#111" stroke-width="0.4" textLength="130.0" lengthAdjust="spacingAndGlyphs">residual</text>
<text x="854.6" y="387.7" font-size="40.0" font-family='"Liberation Sans", sans-serif' fill="#111" stroke="#111" stroke-width="0.4" textLength="111.6" lengthAdjust="spacingAndGlyphs">doping</text>
<text x="856.8" y="437.5" font-size="40.0" font-family='"Liberation Sans", sans-serif' fill="#111" stroke="#111" stroke-width="0.4" textLength="108.1" lengthAdjust="spacingAndGlyphs">limited</text>
<rect x="73.6" y="677" width="800.2" height="513.4" fill="url(#bg)"/>
<text x="87.5" y="729.3" font-size="55.5" font-family='"Liberation Sans", sans-serif' fill="#111" stroke="#111" stroke-width="0.4" textLength="211.0" lengthAdjust="spacingAndGlyphs">p-doped</text>
<text x="656.5" y="729.7" font-size="55.5" font-family='"Liberation Sans", sans-serif' fill="#111" stroke="#111" stroke-width="0.4" textLength="211.0" lengthAdjust="spacingAndGlyphs">n-doped</text>
<text x="453.5" y="641.5" font-size="47.0" font-family='"Liberation Sans", sans-serif' fill="#111" stroke="#111" stroke-width="0.4" textLength="28.0" lengthAdjust="spacingAndGlyphs">d</text>
<line x1="362" x2="578" y1="660.9" y2="660.9" stroke="#111" stroke-width="2.8"/>
<polygon points="349.7,660.9 370.2,649.6 365.2,660.9 370.2,672.1" fill="#111"/>
<polygon points="590.2,660.9 569.7,672.1 574.7,660.9 569.7,649.6" fill="#111"/>
<line x1="476.4" x2="476.4" y1="677" y2="1243.5" stroke="#14040f" stroke-width="1.35" stroke-dasharray="5 4.6" opacity="0.85"/>
<line x1="436.6" x2="436.6" y1="921" y2="1243.5" stroke="#14040f" stroke-width="1.35" stroke-dasharray="5 4.6" opacity="0.85"/>
<path d="M328.5,792.3 H340.3 a8.05,18.6 0 0 1 16.10,0 a8.05,18.6 0 0 0 16.10,0 a8.05,18.6 0 0 1 16.10,0 a8.05,18.6 0 0 0 16.10,0 a8.05,18.6 0 0 1 16.10,0 a8.05,18.6 0 0 0 16.10,0 a8.05,18.6 0 0 1 16.10,0 a8.05,18.6 0 0 0 16.10,0 a8.05,18.6 0 0 1 16.10,0 a8.05,18.6 0 0 0 16.10,0 a8.05,18.6 0 0 1 16.10,0 a8.05,18.6 0 0 0 16.10,0 a8.05,18.6 0 0 1 16.10,0 a8.05,18.6 0 0 0 16.10,0 a8.05,18.6 0 0 1 16.10,0 a8.05,18.6 0 0 0 16.10,0 H610.0" fill="none" stroke="#2a1030" stroke-width="1.8" opacity="0.65"/>
<polygon points="626.0,792.3 608.0,801.8 613.0,792.3 608.0,782.8" fill="#6b3a38"/>
<path d="M438.0,919.6 H450.5 a8.40,18.4 0 0 1 16.80,0 a8.40,18.4 0 0 0 16.80,0 a8.40,18.4 0 0 1 16.80,0 H503.0" fill="none" stroke="#1a0c18" stroke-width="2" opacity="0.8"/>
<polygon points="519.5,919.6 501.0,929.6 506.0,919.6 501.0,909.6" fill="#4a2a2c"/>
<path d="M127.8,1119.5 L218.7,1015 C255,973 285,940 305.8,900 C320,870 328,835 328.3,793" fill="none" stroke="#151515" stroke-width="4.6" stroke-linejoin="round"/>
<path d="M328.3,793 C328.5,770 327,752 322.5,733" fill="none" stroke="#4a4a52" stroke-width="4.6"/>
<polygon points="318,705 346.7,737.9 324.3,737 305.3,748" fill="#55555e"/>
<path d="M127.8,1119.5 L322.5,1033.5 C350,1021 368,1011 381.8,1002 C405,987 425,968 433,945 C436,935 437.3,928 437.6,919.5" fill="none" stroke="#151515" stroke-width="4.6" stroke-linejoin="round"/>
<defs><linearGradient id="gf" gradientUnits="userSpaceOnUse" x1="437" y1="919" x2="250" y2="778"><stop offset="0" stop-color="#a898b8"/><stop offset="0.12" stop-color="#8a8298"/><stop offset="0.45" stop-color="#6c6c82"/><stop offset="1" stop-color="#7577a0"/></linearGradient></defs>
<path d="M437.5,919 C434,885 405,857 365,830 C330,812 290,795 256,780.5" fill="none" stroke="url(#gf)" stroke-width="3.4"/>
<polygon points="225.6,766.5 270.9,763.6 257,780.5 251.4,799.3" fill="#7678a2"/>
<line x1="127.8" x2="797" y1="1119.5" y2="1119.5" stroke="#151515" stroke-width="5.2"/>
<polygon points="826.3,1119.2 782.3,1141.5 794.3,1119.2 782.3,1097.0" fill="#151515"/>
<path d="M626,794 C629,832 637,868 650.2,900 C668,940 700,975 741,1022.4 C765,1049 790,1077 806,1095" fill="none" stroke="#7a4034" stroke-width="4.2" opacity="0.9"/>
<polygon points="826,1118.5 784,1101 806,1096 818,1073" fill="#7a4034" opacity="0.9"/>
<path d="M519.5,920 C521,940 527,955 540.8,974.2 C560,995 590,1011 622.4,1026 C670,1047 720,1069.5 759.5,1087.2 L796,1104" fill="none" stroke="#3a2626" stroke-width="4.6" opacity="0.95"/>
<polygon points="826,1118.5 781,1116 797,1104 800,1084" fill="#3a2626" opacity="0.95"/>
<path d="M254,1119 C258,1090 258,1050 226.5,1020" fill="none" stroke="#1c1c1c" stroke-width="2.1"/>
<polygon points="223.5,1014.5 243.9,1021 231,1025 228,1037.5" fill="#1c1c1c"/>
<path d="M338.2,1119 C340,1090 336,1062 323.5,1043" fill="none" stroke="#1c1c1c" stroke-width="2.1"/>
<polygon points="320.8,1037 341,1048.3 328.5,1050.5 322.5,1059.8" fill="#1c1c1c"/>
<text transform="translate(252.5,1016.8) scale(1.15,1)" font-size="49" font-family='"Liberation Serif", serif' fill="#111">θ</text>
<text x="279.0" y="1040.2" font-size="27.5" font-family='"Liberation Sans", sans-serif' fill="#111" stroke="#111" stroke-width="0.4">2</text>
<text transform="translate(353.5,1094.7) scale(1.15,1)" font-size="49" font-family='"Liberation Serif", serif' fill="#111">θ</text>
<text x="378.5" y="1118.0" font-size="27.5" font-family='"Liberation Sans", sans-serif' fill="#111" stroke="#111" stroke-width="0.4">1</text>
<line x1="389" x2="420" y1="1229.8" y2="1229.8" stroke="#111" stroke-width="3"/>
<polygon points="432.5,1229.8 412.0,1241.0 417.0,1229.8 412.0,1218.5" fill="#111"/>
<line x1="491" x2="523" y1="1229.8" y2="1229.8" stroke="#111" stroke-width="3"/>
<polygon points="478.3,1229.8 498.8,1218.5 493.8,1229.8 498.8,1241.0" fill="#111"/>
<text x="357.0" y="1242.2" font-size="48.0" font-family='"Liberation Sans", sans-serif' fill="#111" stroke="#111" stroke-width="0.4">l</text>
<text x="368.0" y="1259.0" font-size="27.0" font-family='"Liberation Sans", sans-serif' fill="#111" stroke="#111" stroke-width="0.4" textLength="47.0" lengthAdjust="spacingAndGlyphs">min</text>
<text x="463.0" y="1280.9" font-size="50.0" font-family='"Liberation Sans", sans-serif' fill="#111" stroke="#111" stroke-width="0.4" textLength="26.0" lengthAdjust="spacingAndGlyphs">x</text>
<text x="488.5" y="1297.6" font-size="27.5" font-family='"Liberation Sans", sans-serif' fill="#111" stroke="#111" stroke-width="0.4" textLength="17.0" lengthAdjust="spacingAndGlyphs">0</text></svg>
</div></body></html>
